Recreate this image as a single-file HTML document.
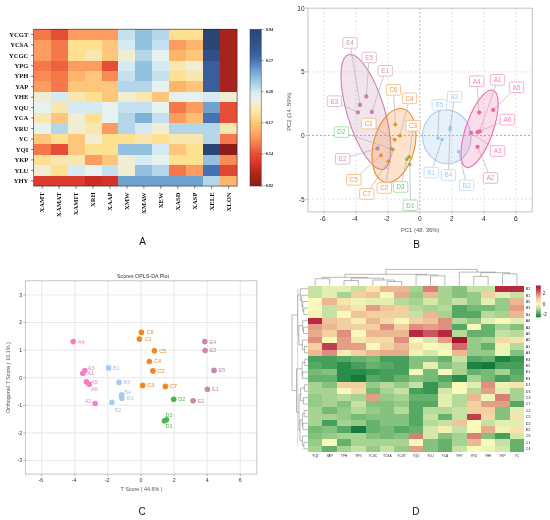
<!DOCTYPE html>
<html lang="en">
<head>
<meta charset="utf-8">
<title>Figure panels A-D</title>
<style>
html,body{margin:0;padding:0;background:#fff;}
body{width:550px;height:520px;overflow:hidden;font-family:"Liberation Sans",sans-serif;}
svg{display:block;}
</style>
</head>
<body>
<svg width="550" height="520" viewBox="0 0 550 520">
<rect x="0" y="0" width="550" height="520" fill="#ffffff"/>
<g id="panelA">
<g shape-rendering="crispEdges">
<rect x="33.70" y="29.20" width="17.25" height="10.76" fill="#f5774a"/>
<rect x="50.65" y="29.20" width="17.25" height="10.76" fill="#e34f37"/>
<rect x="67.60" y="29.20" width="17.25" height="10.76" fill="#fc9c60"/>
<rect x="84.55" y="29.20" width="17.25" height="10.76" fill="#fc9c60"/>
<rect x="101.50" y="29.20" width="17.25" height="10.76" fill="#fc9c60"/>
<rect x="118.45" y="29.20" width="17.25" height="10.76" fill="#c5e0ee"/>
<rect x="135.40" y="29.20" width="17.25" height="10.76" fill="#94c1de"/>
<rect x="152.35" y="29.20" width="17.25" height="10.76" fill="#b4d6e9"/>
<rect x="169.30" y="29.20" width="17.25" height="10.76" fill="#fee091"/>
<rect x="186.25" y="29.20" width="17.25" height="10.76" fill="#fee091"/>
<rect x="203.20" y="29.20" width="17.25" height="10.76" fill="#2a4674"/>
<rect x="220.15" y="29.20" width="17.25" height="10.76" fill="#a8231d"/>
<rect x="33.70" y="39.66" width="17.25" height="10.76" fill="#fc9c60"/>
<rect x="50.65" y="39.66" width="17.25" height="10.76" fill="#f5774a"/>
<rect x="67.60" y="39.66" width="17.25" height="10.76" fill="#fee091"/>
<rect x="84.55" y="39.66" width="17.25" height="10.76" fill="#fee091"/>
<rect x="101.50" y="39.66" width="17.25" height="10.76" fill="#fdc67a"/>
<rect x="118.45" y="39.66" width="17.25" height="10.76" fill="#d6eaf3"/>
<rect x="135.40" y="39.66" width="17.25" height="10.76" fill="#94c1de"/>
<rect x="152.35" y="39.66" width="17.25" height="10.76" fill="#c5e0ee"/>
<rect x="169.30" y="39.66" width="17.25" height="10.76" fill="#fc9c60"/>
<rect x="186.25" y="39.66" width="17.25" height="10.76" fill="#fdb56c"/>
<rect x="203.20" y="39.66" width="17.25" height="10.76" fill="#2a4674"/>
<rect x="220.15" y="39.66" width="17.25" height="10.76" fill="#a8231d"/>
<rect x="33.70" y="50.11" width="17.25" height="10.76" fill="#fc9c60"/>
<rect x="50.65" y="50.11" width="17.25" height="10.76" fill="#f5774a"/>
<rect x="67.60" y="50.11" width="17.25" height="10.76" fill="#fee091"/>
<rect x="84.55" y="50.11" width="17.25" height="10.76" fill="#f9e7b2"/>
<rect x="101.50" y="50.11" width="17.25" height="10.76" fill="#fdc67a"/>
<rect x="118.45" y="50.11" width="17.25" height="10.76" fill="#f1edd2"/>
<rect x="135.40" y="50.11" width="17.25" height="10.76" fill="#b4d6e9"/>
<rect x="152.35" y="50.11" width="17.25" height="10.76" fill="#e6f2ee"/>
<rect x="169.30" y="50.11" width="17.25" height="10.76" fill="#fdb56c"/>
<rect x="186.25" y="50.11" width="17.25" height="10.76" fill="#fdc67a"/>
<rect x="203.20" y="50.11" width="17.25" height="10.76" fill="#30508a"/>
<rect x="220.15" y="50.11" width="17.25" height="10.76" fill="#a8231d"/>
<rect x="33.70" y="60.57" width="17.25" height="10.76" fill="#f5774a"/>
<rect x="50.65" y="60.57" width="17.25" height="10.76" fill="#ec6340"/>
<rect x="67.60" y="60.57" width="17.25" height="10.76" fill="#fc9c60"/>
<rect x="84.55" y="60.57" width="17.25" height="10.76" fill="#fc9c60"/>
<rect x="101.50" y="60.57" width="17.25" height="10.76" fill="#e34f37"/>
<rect x="118.45" y="60.57" width="17.25" height="10.76" fill="#d6eaf3"/>
<rect x="135.40" y="60.57" width="17.25" height="10.76" fill="#94c1de"/>
<rect x="152.35" y="60.57" width="17.25" height="10.76" fill="#d6eaf3"/>
<rect x="169.30" y="60.57" width="17.25" height="10.76" fill="#f9e7b2"/>
<rect x="186.25" y="60.57" width="17.25" height="10.76" fill="#f1edd2"/>
<rect x="203.20" y="60.57" width="17.25" height="10.76" fill="#3a5d9c"/>
<rect x="220.15" y="60.57" width="17.25" height="10.76" fill="#a8231d"/>
<rect x="33.70" y="71.03" width="17.25" height="10.76" fill="#f88a55"/>
<rect x="50.65" y="71.03" width="17.25" height="10.76" fill="#f5774a"/>
<rect x="67.60" y="71.03" width="17.25" height="10.76" fill="#fdb56c"/>
<rect x="84.55" y="71.03" width="17.25" height="10.76" fill="#fdc67a"/>
<rect x="101.50" y="71.03" width="17.25" height="10.76" fill="#f88a55"/>
<rect x="118.45" y="71.03" width="17.25" height="10.76" fill="#c5e0ee"/>
<rect x="135.40" y="71.03" width="17.25" height="10.76" fill="#94c1de"/>
<rect x="152.35" y="71.03" width="17.25" height="10.76" fill="#c5e0ee"/>
<rect x="169.30" y="71.03" width="17.25" height="10.76" fill="#fee091"/>
<rect x="186.25" y="71.03" width="17.25" height="10.76" fill="#f9e7b2"/>
<rect x="203.20" y="71.03" width="17.25" height="10.76" fill="#3a5d9c"/>
<rect x="220.15" y="71.03" width="17.25" height="10.76" fill="#a8231d"/>
<rect x="33.70" y="81.48" width="17.25" height="10.76" fill="#fc9c60"/>
<rect x="50.65" y="81.48" width="17.25" height="10.76" fill="#f5774a"/>
<rect x="67.60" y="81.48" width="17.25" height="10.76" fill="#fdc67a"/>
<rect x="84.55" y="81.48" width="17.25" height="10.76" fill="#fdc67a"/>
<rect x="101.50" y="81.48" width="17.25" height="10.76" fill="#fdc67a"/>
<rect x="118.45" y="81.48" width="17.25" height="10.76" fill="#b4d6e9"/>
<rect x="135.40" y="81.48" width="17.25" height="10.76" fill="#b4d6e9"/>
<rect x="152.35" y="81.48" width="17.25" height="10.76" fill="#e6f2ee"/>
<rect x="169.30" y="81.48" width="17.25" height="10.76" fill="#fdb56c"/>
<rect x="186.25" y="81.48" width="17.25" height="10.76" fill="#fdc67a"/>
<rect x="203.20" y="81.48" width="17.25" height="10.76" fill="#3a5d9c"/>
<rect x="220.15" y="81.48" width="17.25" height="10.76" fill="#a8231d"/>
<rect x="33.70" y="91.94" width="17.25" height="10.76" fill="#f1edd2"/>
<rect x="50.65" y="91.94" width="17.25" height="10.76" fill="#d6eaf3"/>
<rect x="67.60" y="91.94" width="17.25" height="10.76" fill="#f9e7b2"/>
<rect x="84.55" y="91.94" width="17.25" height="10.76" fill="#fee091"/>
<rect x="101.50" y="91.94" width="17.25" height="10.76" fill="#fdc67a"/>
<rect x="118.45" y="91.94" width="17.25" height="10.76" fill="#f1edd2"/>
<rect x="135.40" y="91.94" width="17.25" height="10.76" fill="#f9e7b2"/>
<rect x="152.35" y="91.94" width="17.25" height="10.76" fill="#fdc67a"/>
<rect x="169.30" y="91.94" width="17.25" height="10.76" fill="#e6f2ee"/>
<rect x="186.25" y="91.94" width="17.25" height="10.76" fill="#e6f2ee"/>
<rect x="203.20" y="91.94" width="17.25" height="10.76" fill="#d6eaf3"/>
<rect x="220.15" y="91.94" width="17.25" height="10.76" fill="#f1edd2"/>
<rect x="33.70" y="102.40" width="17.25" height="10.76" fill="#e6f2ee"/>
<rect x="50.65" y="102.40" width="17.25" height="10.76" fill="#f9e7b2"/>
<rect x="67.60" y="102.40" width="17.25" height="10.76" fill="#d6eaf3"/>
<rect x="84.55" y="102.40" width="17.25" height="10.76" fill="#d6eaf3"/>
<rect x="101.50" y="102.40" width="17.25" height="10.76" fill="#e6f2ee"/>
<rect x="118.45" y="102.40" width="17.25" height="10.76" fill="#c5e0ee"/>
<rect x="135.40" y="102.40" width="17.25" height="10.76" fill="#c5e0ee"/>
<rect x="152.35" y="102.40" width="17.25" height="10.76" fill="#e6f2ee"/>
<rect x="169.30" y="102.40" width="17.25" height="10.76" fill="#f5774a"/>
<rect x="186.25" y="102.40" width="17.25" height="10.76" fill="#fc9c60"/>
<rect x="203.20" y="102.40" width="17.25" height="10.76" fill="#6ea2cf"/>
<rect x="220.15" y="102.40" width="17.25" height="10.76" fill="#e34f37"/>
<rect x="33.70" y="112.86" width="17.25" height="10.76" fill="#f9e7b2"/>
<rect x="50.65" y="112.86" width="17.25" height="10.76" fill="#fdc67a"/>
<rect x="67.60" y="112.86" width="17.25" height="10.76" fill="#f1edd2"/>
<rect x="84.55" y="112.86" width="17.25" height="10.76" fill="#fee091"/>
<rect x="101.50" y="112.86" width="17.25" height="10.76" fill="#e6f2ee"/>
<rect x="118.45" y="112.86" width="17.25" height="10.76" fill="#b4d6e9"/>
<rect x="135.40" y="112.86" width="17.25" height="10.76" fill="#81b2d6"/>
<rect x="152.35" y="112.86" width="17.25" height="10.76" fill="#c5e0ee"/>
<rect x="169.30" y="112.86" width="17.25" height="10.76" fill="#fc9c60"/>
<rect x="186.25" y="112.86" width="17.25" height="10.76" fill="#fdbe73"/>
<rect x="203.20" y="112.86" width="17.25" height="10.76" fill="#4473b4"/>
<rect x="220.15" y="112.86" width="17.25" height="10.76" fill="#e34f37"/>
<rect x="33.70" y="123.31" width="17.25" height="10.76" fill="#e6f2ee"/>
<rect x="50.65" y="123.31" width="17.25" height="10.76" fill="#b4d6e9"/>
<rect x="67.60" y="123.31" width="17.25" height="10.76" fill="#f1edd2"/>
<rect x="84.55" y="123.31" width="17.25" height="10.76" fill="#f9e7b2"/>
<rect x="101.50" y="123.31" width="17.25" height="10.76" fill="#fc9c60"/>
<rect x="118.45" y="123.31" width="17.25" height="10.76" fill="#b4d6e9"/>
<rect x="135.40" y="123.31" width="17.25" height="10.76" fill="#d6eaf3"/>
<rect x="152.35" y="123.31" width="17.25" height="10.76" fill="#f1edd2"/>
<rect x="169.30" y="123.31" width="17.25" height="10.76" fill="#b4d6e9"/>
<rect x="186.25" y="123.31" width="17.25" height="10.76" fill="#b4d6e9"/>
<rect x="203.20" y="123.31" width="17.25" height="10.76" fill="#b4d6e9"/>
<rect x="220.15" y="123.31" width="17.25" height="10.76" fill="#f9e7b2"/>
<rect x="33.70" y="133.77" width="17.25" height="10.76" fill="#fdc67a"/>
<rect x="50.65" y="133.77" width="17.25" height="10.76" fill="#fee091"/>
<rect x="67.60" y="133.77" width="17.25" height="10.76" fill="#fdc67a"/>
<rect x="84.55" y="133.77" width="17.25" height="10.76" fill="#f1edd2"/>
<rect x="101.50" y="133.77" width="17.25" height="10.76" fill="#fee091"/>
<rect x="118.45" y="133.77" width="17.25" height="10.76" fill="#fee091"/>
<rect x="135.40" y="133.77" width="17.25" height="10.76" fill="#f9e7b2"/>
<rect x="152.35" y="133.77" width="17.25" height="10.76" fill="#fee091"/>
<rect x="169.30" y="133.77" width="17.25" height="10.76" fill="#f9e7b2"/>
<rect x="186.25" y="133.77" width="17.25" height="10.76" fill="#f9e7b2"/>
<rect x="203.20" y="133.77" width="17.25" height="10.76" fill="#b4d6e9"/>
<rect x="220.15" y="133.77" width="17.25" height="10.76" fill="#f5774a"/>
<rect x="33.70" y="144.23" width="17.25" height="10.76" fill="#f5774a"/>
<rect x="50.65" y="144.23" width="17.25" height="10.76" fill="#e34f37"/>
<rect x="67.60" y="144.23" width="17.25" height="10.76" fill="#fdc67a"/>
<rect x="84.55" y="144.23" width="17.25" height="10.76" fill="#fee091"/>
<rect x="101.50" y="144.23" width="17.25" height="10.76" fill="#fee091"/>
<rect x="118.45" y="144.23" width="17.25" height="10.76" fill="#94c1de"/>
<rect x="135.40" y="144.23" width="17.25" height="10.76" fill="#94c1de"/>
<rect x="152.35" y="144.23" width="17.25" height="10.76" fill="#d6eaf3"/>
<rect x="169.30" y="144.23" width="17.25" height="10.76" fill="#fdc67a"/>
<rect x="186.25" y="144.23" width="17.25" height="10.76" fill="#fee091"/>
<rect x="203.20" y="144.23" width="17.25" height="10.76" fill="#2a4674"/>
<rect x="220.15" y="144.23" width="17.25" height="10.76" fill="#8e1c19"/>
<rect x="33.70" y="154.68" width="17.25" height="10.76" fill="#fee091"/>
<rect x="50.65" y="154.68" width="17.25" height="10.76" fill="#f9e7b2"/>
<rect x="67.60" y="154.68" width="17.25" height="10.76" fill="#f9e7b2"/>
<rect x="84.55" y="154.68" width="17.25" height="10.76" fill="#fc9c60"/>
<rect x="101.50" y="154.68" width="17.25" height="10.76" fill="#fdc67a"/>
<rect x="118.45" y="154.68" width="17.25" height="10.76" fill="#f1edd2"/>
<rect x="135.40" y="154.68" width="17.25" height="10.76" fill="#d6eaf3"/>
<rect x="152.35" y="154.68" width="17.25" height="10.76" fill="#e6f2ee"/>
<rect x="169.30" y="154.68" width="17.25" height="10.76" fill="#fee091"/>
<rect x="186.25" y="154.68" width="17.25" height="10.76" fill="#fee091"/>
<rect x="203.20" y="154.68" width="17.25" height="10.76" fill="#94c1de"/>
<rect x="220.15" y="154.68" width="17.25" height="10.76" fill="#f88a55"/>
<rect x="33.70" y="165.14" width="17.25" height="10.76" fill="#f1edd2"/>
<rect x="50.65" y="165.14" width="17.25" height="10.76" fill="#fee091"/>
<rect x="67.60" y="165.14" width="17.25" height="10.76" fill="#d6eaf3"/>
<rect x="84.55" y="165.14" width="17.25" height="10.76" fill="#e6f2ee"/>
<rect x="101.50" y="165.14" width="17.25" height="10.76" fill="#c5e0ee"/>
<rect x="118.45" y="165.14" width="17.25" height="10.76" fill="#f1edd2"/>
<rect x="135.40" y="165.14" width="17.25" height="10.76" fill="#94c1de"/>
<rect x="152.35" y="165.14" width="17.25" height="10.76" fill="#b4d6e9"/>
<rect x="169.30" y="165.14" width="17.25" height="10.76" fill="#f5774a"/>
<rect x="186.25" y="165.14" width="17.25" height="10.76" fill="#fc9c60"/>
<rect x="203.20" y="165.14" width="17.25" height="10.76" fill="#4473b4"/>
<rect x="220.15" y="165.14" width="17.25" height="10.76" fill="#e04632"/>
<rect x="33.70" y="175.60" width="17.25" height="10.76" fill="#dc3c2d"/>
<rect x="50.65" y="175.60" width="17.25" height="10.76" fill="#dc3c2d"/>
<rect x="67.60" y="175.60" width="17.25" height="10.76" fill="#dc3c2d"/>
<rect x="84.55" y="175.60" width="17.25" height="10.76" fill="#cc2a24"/>
<rect x="101.50" y="175.60" width="17.25" height="10.76" fill="#d43328"/>
<rect x="118.45" y="175.60" width="17.25" height="10.76" fill="#6ea2cf"/>
<rect x="135.40" y="175.60" width="17.25" height="10.76" fill="#6ea2cf"/>
<rect x="152.35" y="175.60" width="17.25" height="10.76" fill="#6ea2cf"/>
<rect x="169.30" y="175.60" width="17.25" height="10.76" fill="#6ea2cf"/>
<rect x="186.25" y="175.60" width="17.25" height="10.76" fill="#6ea2cf"/>
<rect x="203.20" y="175.60" width="17.25" height="10.76" fill="#b4d6e9"/>
<rect x="220.15" y="175.60" width="17.25" height="10.76" fill="#fdb56c"/>
</g>
<rect x="33.70" y="29.20" width="203.40" height="156.86" fill="none" stroke="#222" stroke-width="0.6"/>
<g font-family="'Liberation Serif', 'DejaVu Serif', serif" font-weight="bold" font-size="6.6" fill="#111">
<line x1="31.10" y1="34.43" x2="33.70" y2="34.43" stroke="#222" stroke-width="0.6"/>
<text x="28.30" y="36.63" text-anchor="end">YCGT</text>
<line x1="31.10" y1="44.89" x2="33.70" y2="44.89" stroke="#222" stroke-width="0.6"/>
<text x="28.30" y="47.09" text-anchor="end">YCSA</text>
<line x1="31.10" y1="55.34" x2="33.70" y2="55.34" stroke="#222" stroke-width="0.6"/>
<text x="28.30" y="57.54" text-anchor="end">YCGC</text>
<line x1="31.10" y1="65.80" x2="33.70" y2="65.80" stroke="#222" stroke-width="0.6"/>
<text x="28.30" y="68.00" text-anchor="end">YPG</text>
<line x1="31.10" y1="76.26" x2="33.70" y2="76.26" stroke="#222" stroke-width="0.6"/>
<text x="28.30" y="78.46" text-anchor="end">YPH</text>
<line x1="31.10" y1="86.71" x2="33.70" y2="86.71" stroke="#222" stroke-width="0.6"/>
<text x="28.30" y="88.91" text-anchor="end">YAP</text>
<line x1="31.10" y1="97.17" x2="33.70" y2="97.17" stroke="#222" stroke-width="0.6"/>
<text x="28.30" y="99.37" text-anchor="end">YHE</text>
<line x1="31.10" y1="107.63" x2="33.70" y2="107.63" stroke="#222" stroke-width="0.6"/>
<text x="28.30" y="109.83" text-anchor="end">YQU</text>
<line x1="31.10" y1="118.08" x2="33.70" y2="118.08" stroke="#222" stroke-width="0.6"/>
<text x="28.30" y="120.28" text-anchor="end">YCA</text>
<line x1="31.10" y1="128.54" x2="33.70" y2="128.54" stroke="#222" stroke-width="0.6"/>
<text x="28.30" y="130.74" text-anchor="end">YRU</text>
<line x1="31.10" y1="139.00" x2="33.70" y2="139.00" stroke="#222" stroke-width="0.6"/>
<text x="28.30" y="141.20" text-anchor="end">YC</text>
<line x1="31.10" y1="149.46" x2="33.70" y2="149.46" stroke="#222" stroke-width="0.6"/>
<text x="28.30" y="151.66" text-anchor="end">YQI</text>
<line x1="31.10" y1="159.91" x2="33.70" y2="159.91" stroke="#222" stroke-width="0.6"/>
<text x="28.30" y="162.11" text-anchor="end">YKP</text>
<line x1="31.10" y1="170.37" x2="33.70" y2="170.37" stroke="#222" stroke-width="0.6"/>
<text x="28.30" y="172.57" text-anchor="end">YLU</text>
<line x1="31.10" y1="180.83" x2="33.70" y2="180.83" stroke="#222" stroke-width="0.6"/>
<text x="28.30" y="183.03" text-anchor="end">YHY</text>
<line x1="42.18" y1="186.06" x2="42.18" y2="188.66" stroke="#222" stroke-width="0.6"/>
<text transform="translate(44.38,192.46) rotate(-90)" text-anchor="end" font-size="6.6">XAMT</text>
<line x1="59.12" y1="186.06" x2="59.12" y2="188.66" stroke="#222" stroke-width="0.6"/>
<text transform="translate(61.33,192.46) rotate(-90)" text-anchor="end" font-size="6.6">XAMAT</text>
<line x1="76.08" y1="186.06" x2="76.08" y2="188.66" stroke="#222" stroke-width="0.6"/>
<text transform="translate(78.28,192.46) rotate(-90)" text-anchor="end" font-size="6.6">XAMIT</text>
<line x1="93.03" y1="186.06" x2="93.03" y2="188.66" stroke="#222" stroke-width="0.6"/>
<text transform="translate(95.23,192.46) rotate(-90)" text-anchor="end" font-size="6.6">XRH</text>
<line x1="109.97" y1="186.06" x2="109.97" y2="188.66" stroke="#222" stroke-width="0.6"/>
<text transform="translate(112.17,192.46) rotate(-90)" text-anchor="end" font-size="6.6">XAAP</text>
<line x1="126.92" y1="186.06" x2="126.92" y2="188.66" stroke="#222" stroke-width="0.6"/>
<text transform="translate(129.12,192.46) rotate(-90)" text-anchor="end" font-size="6.6">XMW</text>
<line x1="143.88" y1="186.06" x2="143.88" y2="188.66" stroke="#222" stroke-width="0.6"/>
<text transform="translate(146.07,192.46) rotate(-90)" text-anchor="end" font-size="6.6">XMAW</text>
<line x1="160.82" y1="186.06" x2="160.82" y2="188.66" stroke="#222" stroke-width="0.6"/>
<text transform="translate(163.02,192.46) rotate(-90)" text-anchor="end" font-size="6.6">XEW</text>
<line x1="177.77" y1="186.06" x2="177.77" y2="188.66" stroke="#222" stroke-width="0.6"/>
<text transform="translate(179.97,192.46) rotate(-90)" text-anchor="end" font-size="6.6">XASD</text>
<line x1="194.73" y1="186.06" x2="194.73" y2="188.66" stroke="#222" stroke-width="0.6"/>
<text transform="translate(196.93,192.46) rotate(-90)" text-anchor="end" font-size="6.6">XASP</text>
<line x1="211.68" y1="186.06" x2="211.68" y2="188.66" stroke="#222" stroke-width="0.6"/>
<text transform="translate(213.88,192.46) rotate(-90)" text-anchor="end" font-size="6.6">XELE</text>
<line x1="228.62" y1="186.06" x2="228.62" y2="188.66" stroke="#222" stroke-width="0.6"/>
<text transform="translate(230.82,192.46) rotate(-90)" text-anchor="end" font-size="6.6">XLON</text>
</g>
<defs><linearGradient id="cbA" x1="0" y1="0" x2="0" y2="1">
<stop offset="0.0000" stop-color="#2a4674"/>
<stop offset="0.0753" stop-color="#30508a"/>
<stop offset="0.1505" stop-color="#3a5d9c"/>
<stop offset="0.1989" stop-color="#4473b4"/>
<stop offset="0.2634" stop-color="#6ea2cf"/>
<stop offset="0.3172" stop-color="#94c1de"/>
<stop offset="0.3602" stop-color="#b4d6e9"/>
<stop offset="0.3978" stop-color="#d6eaf3"/>
<stop offset="0.4355" stop-color="#e6f2ee"/>
<stop offset="0.4731" stop-color="#f1edd2"/>
<stop offset="0.5161" stop-color="#f9e7b2"/>
<stop offset="0.5538" stop-color="#fee091"/>
<stop offset="0.5968" stop-color="#fdc67a"/>
<stop offset="0.6398" stop-color="#fdb56c"/>
<stop offset="0.6828" stop-color="#fc9c60"/>
<stop offset="0.7366" stop-color="#f5774a"/>
<stop offset="0.7957" stop-color="#e34f37"/>
<stop offset="0.8387" stop-color="#dc3c2d"/>
<stop offset="0.8817" stop-color="#cc2a24"/>
<stop offset="0.9355" stop-color="#a8231d"/>
<stop offset="1.0000" stop-color="#8e1c19"/>
</linearGradient></defs>
<rect x="250.0" y="29.3" width="11.20" height="156.70" fill="url(#cbA)" stroke="#333" stroke-width="0.5"/>
<g font-family="'Liberation Serif', serif" font-weight="bold" font-size="4.2" fill="#111">
<line x1="261.2" y1="29.30" x2="263.40" y2="29.30" stroke="#222" stroke-width="0.5"/>
<text x="273.00" y="30.70" text-anchor="end">0.94</text>
<line x1="261.2" y1="60.47" x2="263.40" y2="60.47" stroke="#222" stroke-width="0.5"/>
<text x="273.00" y="61.87" text-anchor="end">0.57</text>
<line x1="261.2" y1="91.64" x2="263.40" y2="91.64" stroke="#222" stroke-width="0.5"/>
<text x="273.00" y="93.04" text-anchor="end">0.20</text>
<line x1="261.2" y1="122.81" x2="263.40" y2="122.81" stroke="#222" stroke-width="0.5"/>
<text x="273.00" y="124.21" text-anchor="end">-0.17</text>
<line x1="261.2" y1="153.99" x2="263.40" y2="153.99" stroke="#222" stroke-width="0.5"/>
<text x="273.00" y="155.39" text-anchor="end">-0.54</text>
<line x1="261.2" y1="186.00" x2="263.40" y2="186.00" stroke="#222" stroke-width="0.5"/>
<text x="273.00" y="187.40" text-anchor="end">-0.92</text>
</g>
<text x="142.5" y="244.9" text-anchor="middle" font-family="'Liberation Sans', sans-serif" font-size="10" fill="#111">A</text>
</g>
<g id="panelB" font-family="'Liberation Sans', sans-serif">
<line x1="323.80" y1="8.2" x2="323.80" y2="211.8" stroke="#e2e2e2" stroke-width="1.2" stroke-dasharray="1.6,2.5"/>
<line x1="355.80" y1="8.2" x2="355.80" y2="211.8" stroke="#e2e2e2" stroke-width="1.2" stroke-dasharray="1.6,2.5"/>
<line x1="387.80" y1="8.2" x2="387.80" y2="211.8" stroke="#e2e2e2" stroke-width="1.2" stroke-dasharray="1.6,2.5"/>
<line x1="451.80" y1="8.2" x2="451.80" y2="211.8" stroke="#e2e2e2" stroke-width="1.2" stroke-dasharray="1.6,2.5"/>
<line x1="483.80" y1="8.2" x2="483.80" y2="211.8" stroke="#e2e2e2" stroke-width="1.2" stroke-dasharray="1.6,2.5"/>
<line x1="515.80" y1="8.2" x2="515.80" y2="211.8" stroke="#e2e2e2" stroke-width="1.2" stroke-dasharray="1.6,2.5"/>
<line x1="308.0" y1="71.85" x2="532.2" y2="71.85" stroke="#e2e2e2" stroke-width="1.2" stroke-dasharray="1.6,2.5"/>
<line x1="308.0" y1="199.15" x2="532.2" y2="199.15" stroke="#e2e2e2" stroke-width="1.2" stroke-dasharray="1.6,2.5"/>
<line x1="419.80" y1="8.2" x2="419.80" y2="211.8" stroke="#9a9a9a" stroke-width="0.8" stroke-dasharray="2,2"/>
<line x1="308.0" y1="135.50" x2="532.2" y2="135.50" stroke="#9a9a9a" stroke-width="0.8" stroke-dasharray="2,2"/>
<rect x="308.0" y="8.2" width="224.20" height="203.60" fill="none" stroke="#c4c4c4" stroke-width="1"/>
<g font-size="6.6" fill="#2a2a2a">
<line x1="306.0" y1="8.20" x2="308.0" y2="8.20" stroke="#999" stroke-width="0.7"/>
<text x="304.60" y="10.55" text-anchor="end">10</text>
<line x1="306.0" y1="71.85" x2="308.0" y2="71.85" stroke="#999" stroke-width="0.7"/>
<text x="304.60" y="74.20" text-anchor="end">5</text>
<line x1="306.0" y1="135.50" x2="308.0" y2="135.50" stroke="#999" stroke-width="0.7"/>
<text x="304.60" y="137.85" text-anchor="end">0</text>
<line x1="306.0" y1="199.15" x2="308.0" y2="199.15" stroke="#999" stroke-width="0.7"/>
<text x="304.60" y="201.50" text-anchor="end">-5</text>
<line x1="323.80" y1="211.8" x2="323.80" y2="213.8" stroke="#999" stroke-width="0.7"/>
<text x="322.80" y="220.6" text-anchor="middle">-6</text>
<line x1="355.80" y1="211.8" x2="355.80" y2="213.8" stroke="#999" stroke-width="0.7"/>
<text x="354.80" y="220.6" text-anchor="middle">-4</text>
<line x1="387.80" y1="211.8" x2="387.80" y2="213.8" stroke="#999" stroke-width="0.7"/>
<text x="386.80" y="220.6" text-anchor="middle">-2</text>
<line x1="419.80" y1="211.8" x2="419.80" y2="213.8" stroke="#999" stroke-width="0.7"/>
<text x="419.80" y="220.6" text-anchor="middle">0</text>
<line x1="451.80" y1="211.8" x2="451.80" y2="213.8" stroke="#999" stroke-width="0.7"/>
<text x="451.80" y="220.6" text-anchor="middle">2</text>
<line x1="483.80" y1="211.8" x2="483.80" y2="213.8" stroke="#999" stroke-width="0.7"/>
<text x="483.80" y="220.6" text-anchor="middle">4</text>
<line x1="515.80" y1="211.8" x2="515.80" y2="213.8" stroke="#999" stroke-width="0.7"/>
<text x="515.80" y="220.6" text-anchor="middle">6</text>
</g>
<text x="420.2" y="232.0" text-anchor="middle" font-size="5.9" fill="#555">PC1 (48. 36%)</text>
<text transform="translate(291.2,111.5) rotate(-90)" text-anchor="middle" font-size="5.9" fill="#555">PC2 (14. 59%)</text>
<ellipse cx="365.9" cy="112.0" rx="18.7" ry="59.8" transform="rotate(-16.85 365.9 112.0)" fill="rgba(197,131,170,0.22)" stroke="#c583aa" stroke-width="1.1"/>
<ellipse cx="394.0" cy="145.5" rx="20.6" ry="37.8" transform="rotate(14.0 394.0 145.5)" fill="rgba(245,140,40,0.24)" stroke="#f28a25" stroke-width="1.1"/>
<ellipse cx="446.8" cy="136.8" rx="24.2" ry="27.0" transform="rotate(-8.0 446.8 136.8)" fill="rgba(170,205,242,0.28)" stroke="#a9cdf1" stroke-width="1.1"/>
<ellipse cx="479.6" cy="128.8" rx="13.6" ry="40.8" transform="rotate(19.3 479.6 128.8)" fill="rgba(240,100,170,0.22)" stroke="#f26cb0" stroke-width="1.1"/>
<line x1="350.0" y1="42.9" x2="360.0" y2="105.0" stroke="#b4b4b4" stroke-width="0.7"/>
<line x1="369.2" y1="57.5" x2="366.3" y2="96.5" stroke="#b4b4b4" stroke-width="0.7"/>
<line x1="385.2" y1="70.8" x2="371.9" y2="112.0" stroke="#b4b4b4" stroke-width="0.7"/>
<line x1="334.5" y1="101.2" x2="357.9" y2="112.4" stroke="#b4b4b4" stroke-width="0.7"/>
<line x1="342.7" y1="158.9" x2="377.5" y2="148.4" stroke="#b4b4b4" stroke-width="0.7"/>
<line x1="393.5" y1="89.9" x2="395.3" y2="124.5" stroke="#b4b4b4" stroke-width="0.7"/>
<line x1="409.6" y1="98.3" x2="399.9" y2="135.7" stroke="#b4b4b4" stroke-width="0.7"/>
<line x1="368.8" y1="123.6" x2="394.7" y2="139.8" stroke="#b4b4b4" stroke-width="0.7"/>
<line x1="413.1" y1="125.7" x2="409.1" y2="157.1" stroke="#b4b4b4" stroke-width="0.7"/>
<line x1="353.8" y1="179.8" x2="381.0" y2="155.4" stroke="#b4b4b4" stroke-width="0.7"/>
<line x1="366.8" y1="194.0" x2="388.3" y2="161.3" stroke="#b4b4b4" stroke-width="0.7"/>
<line x1="384.3" y1="188.0" x2="392.9" y2="149.5" stroke="#b4b4b4" stroke-width="0.7"/>
<line x1="341.4" y1="132.1" x2="391.1" y2="148.7" stroke="#b4b4b4" stroke-width="0.7"/>
<line x1="400.6" y1="187.0" x2="406.8" y2="159.2" stroke="#b4b4b4" stroke-width="0.7"/>
<line x1="410.4" y1="205.3" x2="409.9" y2="164.5" stroke="#b4b4b4" stroke-width="0.7"/>
<line x1="439.3" y1="104.8" x2="437.9" y2="138.2" stroke="#b4b4b4" stroke-width="0.7"/>
<line x1="454.5" y1="96.7" x2="450.3" y2="127.3" stroke="#b4b4b4" stroke-width="0.7"/>
<line x1="431.2" y1="172.5" x2="442.0" y2="139.5" stroke="#b4b4b4" stroke-width="0.7"/>
<line x1="448.4" y1="175.1" x2="450.0" y2="129.6" stroke="#b4b4b4" stroke-width="0.7"/>
<line x1="466.6" y1="185.3" x2="458.7" y2="151.6" stroke="#b4b4b4" stroke-width="0.7"/>
<line x1="476.7" y1="81.2" x2="479.2" y2="112.6" stroke="#b4b4b4" stroke-width="0.7"/>
<line x1="497.5" y1="79.9" x2="479.7" y2="131.4" stroke="#b4b4b4" stroke-width="0.7"/>
<line x1="516.5" y1="87.2" x2="493.2" y2="109.9" stroke="#b4b4b4" stroke-width="0.7"/>
<line x1="507.4" y1="119.6" x2="477.6" y2="132.2" stroke="#b4b4b4" stroke-width="0.7"/>
<line x1="497.6" y1="151.0" x2="471.0" y2="132.8" stroke="#b4b4b4" stroke-width="0.7"/>
<line x1="490.5" y1="178.0" x2="477.5" y2="146.8" stroke="#b4b4b4" stroke-width="0.7"/>
<circle cx="360.0" cy="105.0" r="2.15" fill="#c583aa"/>
<circle cx="366.3" cy="96.5" r="2.15" fill="#c583aa"/>
<circle cx="371.9" cy="112.0" r="2.15" fill="#c583aa"/>
<circle cx="357.9" cy="112.4" r="2.15" fill="#c583aa"/>
<circle cx="377.5" cy="148.4" r="2.15" fill="#c583aa"/>
<polygon points="395.3,122.2 397.6,124.5 395.3,126.8 393.0,124.5" fill="#f28a25"/>
<polygon points="399.9,133.39999999999998 402.2,135.7 399.9,138.0 397.59999999999997,135.7" fill="#f28a25"/>
<polygon points="394.7,137.5 397.0,139.8 394.7,142.10000000000002 392.4,139.8" fill="#f28a25"/>
<polygon points="409.1,154.79999999999998 411.40000000000003,157.1 409.1,159.4 406.8,157.1" fill="#f28a25"/>
<polygon points="381.0,153.1 383.3,155.4 381.0,157.70000000000002 378.7,155.4" fill="#f28a25"/>
<polygon points="388.3,159.0 390.6,161.3 388.3,163.60000000000002 386.0,161.3" fill="#f28a25"/>
<polygon points="392.9,147.2 395.2,149.5 392.9,151.8 390.59999999999997,149.5" fill="#f28a25"/>
<polygon points="391.10,146.10 391.74,147.82 393.57,147.90 392.14,149.04 392.63,150.80 391.10,149.79 389.57,150.80 390.06,149.04 388.63,147.90 390.46,147.82" fill="#5cbf58"/>
<polygon points="406.80,156.60 407.44,158.32 409.27,158.40 407.84,159.54 408.33,161.30 406.80,160.29 405.27,161.30 405.76,159.54 404.33,158.40 406.16,158.32" fill="#5cbf58"/>
<polygon points="409.90,161.90 410.54,163.62 412.37,163.70 410.94,164.84 411.43,166.60 409.90,165.59 408.37,166.60 408.86,164.84 407.43,163.70 409.26,163.62" fill="#5cbf58"/>
<rect x="436.4" y="136.7" width="3" height="3" fill="#9cc5ee"/>
<rect x="448.8" y="125.8" width="3" height="3" fill="#9cc5ee"/>
<rect x="440.5" y="138.0" width="3" height="3" fill="#9cc5ee"/>
<rect x="448.5" y="128.1" width="3" height="3" fill="#9cc5ee"/>
<rect x="457.2" y="150.1" width="3" height="3" fill="#9cc5ee"/>
<circle cx="479.2" cy="112.6" r="2.15" fill="#f065ab"/>
<circle cx="479.7" cy="131.4" r="2.15" fill="#f065ab"/>
<circle cx="493.2" cy="109.9" r="2.15" fill="#f065ab"/>
<circle cx="477.6" cy="132.2" r="2.15" fill="#f065ab"/>
<circle cx="471.0" cy="132.8" r="2.15" fill="#f065ab"/>
<circle cx="477.5" cy="146.8" r="2.15" fill="#f065ab"/>
<g font-size="6.3" text-anchor="middle">
<rect x="342.80" y="37.60" width="14.4" height="10.6" rx="1.4" fill="#fff" stroke="#dfb9cf" stroke-width="0.9"/>
<text x="350.00" y="45.20" fill="#cc98b8">E4</text>
<rect x="362.00" y="52.20" width="14.4" height="10.6" rx="1.4" fill="#fff" stroke="#dfb9cf" stroke-width="0.9"/>
<text x="369.20" y="59.80" fill="#cc98b8">E5</text>
<rect x="378.00" y="65.50" width="14.4" height="10.6" rx="1.4" fill="#fff" stroke="#dfb9cf" stroke-width="0.9"/>
<text x="385.20" y="73.10" fill="#cc98b8">E1</text>
<rect x="327.30" y="95.90" width="14.4" height="10.6" rx="1.4" fill="#fff" stroke="#dfb9cf" stroke-width="0.9"/>
<text x="334.50" y="103.50" fill="#cc98b8">E3</text>
<rect x="335.50" y="153.60" width="14.4" height="10.6" rx="1.4" fill="#fff" stroke="#dfb9cf" stroke-width="0.9"/>
<text x="342.70" y="161.20" fill="#cc98b8">E2</text>
<rect x="386.30" y="84.60" width="14.4" height="10.6" rx="1.4" fill="#fff" stroke="#f8bd83" stroke-width="0.9"/>
<text x="393.50" y="92.20" fill="#f5953a">C6</text>
<rect x="402.40" y="93.00" width="14.4" height="10.6" rx="1.4" fill="#fff" stroke="#f8bd83" stroke-width="0.9"/>
<text x="409.60" y="100.60" fill="#f5953a">C4</text>
<rect x="361.60" y="118.30" width="14.4" height="10.6" rx="1.4" fill="#fff" stroke="#f8bd83" stroke-width="0.9"/>
<text x="368.80" y="125.90" fill="#f5953a">C1</text>
<rect x="405.90" y="120.40" width="14.4" height="10.6" rx="1.4" fill="#fff" stroke="#f8bd83" stroke-width="0.9"/>
<text x="413.10" y="128.00" fill="#f5953a">C3</text>
<rect x="346.60" y="174.50" width="14.4" height="10.6" rx="1.4" fill="#fff" stroke="#f8bd83" stroke-width="0.9"/>
<text x="353.80" y="182.10" fill="#f5953a">C5</text>
<rect x="359.60" y="188.70" width="14.4" height="10.6" rx="1.4" fill="#fff" stroke="#f8bd83" stroke-width="0.9"/>
<text x="366.80" y="196.30" fill="#f5953a">C7</text>
<rect x="377.10" y="182.70" width="14.4" height="10.6" rx="1.4" fill="#fff" stroke="#f8bd83" stroke-width="0.9"/>
<text x="384.30" y="190.30" fill="#f5953a">C2</text>
<rect x="334.20" y="126.80" width="14.4" height="10.6" rx="1.4" fill="#fff" stroke="#a5dca3" stroke-width="0.9"/>
<text x="341.40" y="134.40" fill="#68c464">D2</text>
<rect x="393.40" y="181.70" width="14.4" height="10.6" rx="1.4" fill="#fff" stroke="#a5dca3" stroke-width="0.9"/>
<text x="400.60" y="189.30" fill="#68c464">D3</text>
<rect x="403.20" y="200.00" width="14.4" height="10.6" rx="1.4" fill="#fff" stroke="#a5dca3" stroke-width="0.9"/>
<text x="410.40" y="207.60" fill="#68c464">D1</text>
<rect x="432.10" y="99.50" width="14.4" height="10.6" rx="1.4" fill="#fff" stroke="#c3dcf5" stroke-width="0.9"/>
<text x="439.30" y="107.10" fill="#a6cbf0">B5</text>
<rect x="447.30" y="91.40" width="14.4" height="10.6" rx="1.4" fill="#fff" stroke="#c3dcf5" stroke-width="0.9"/>
<text x="454.50" y="99.00" fill="#a6cbf0">B3</text>
<rect x="424.00" y="167.20" width="14.4" height="10.6" rx="1.4" fill="#fff" stroke="#c3dcf5" stroke-width="0.9"/>
<text x="431.20" y="174.80" fill="#a6cbf0">B1</text>
<rect x="441.20" y="169.80" width="14.4" height="10.6" rx="1.4" fill="#fff" stroke="#c3dcf5" stroke-width="0.9"/>
<text x="448.40" y="177.40" fill="#a6cbf0">B4</text>
<rect x="459.40" y="180.00" width="14.4" height="10.6" rx="1.4" fill="#fff" stroke="#c3dcf5" stroke-width="0.9"/>
<text x="466.60" y="187.60" fill="#a6cbf0">B2</text>
<rect x="469.50" y="75.90" width="14.4" height="10.6" rx="1.4" fill="#fff" stroke="#f6a6cf" stroke-width="0.9"/>
<text x="476.70" y="83.50" fill="#f27db5">A4</text>
<rect x="490.30" y="74.60" width="14.4" height="10.6" rx="1.4" fill="#fff" stroke="#f6a6cf" stroke-width="0.9"/>
<text x="497.50" y="82.20" fill="#f27db5">A1</text>
<rect x="509.30" y="81.90" width="14.4" height="10.6" rx="1.4" fill="#fff" stroke="#f6a6cf" stroke-width="0.9"/>
<text x="516.50" y="89.50" fill="#f27db5">A5</text>
<rect x="500.20" y="114.30" width="14.4" height="10.6" rx="1.4" fill="#fff" stroke="#f6a6cf" stroke-width="0.9"/>
<text x="507.40" y="121.90" fill="#f27db5">A6</text>
<rect x="490.40" y="145.70" width="14.4" height="10.6" rx="1.4" fill="#fff" stroke="#f6a6cf" stroke-width="0.9"/>
<text x="497.60" y="153.30" fill="#f27db5">A3</text>
<rect x="483.30" y="172.70" width="14.4" height="10.6" rx="1.4" fill="#fff" stroke="#f6a6cf" stroke-width="0.9"/>
<text x="490.50" y="180.30" fill="#f27db5">A2</text>
</g>
<text x="416.6" y="248.3" text-anchor="middle" font-size="10" fill="#111">B</text>
</g>
<g id="panelC" font-family="'Liberation Sans', sans-serif">
<line x1="41.70" y1="280.8" x2="41.70" y2="474.1" stroke="#e2e2e2" stroke-width="0.8"/>
<line x1="74.80" y1="280.8" x2="74.80" y2="474.1" stroke="#e2e2e2" stroke-width="0.8"/>
<line x1="107.90" y1="280.8" x2="107.90" y2="474.1" stroke="#e2e2e2" stroke-width="0.8"/>
<line x1="141.00" y1="280.8" x2="141.00" y2="474.1" stroke="#e2e2e2" stroke-width="0.8"/>
<line x1="174.10" y1="280.8" x2="174.10" y2="474.1" stroke="#e2e2e2" stroke-width="0.8"/>
<line x1="207.20" y1="280.8" x2="207.20" y2="474.1" stroke="#e2e2e2" stroke-width="0.8"/>
<line x1="240.30" y1="280.8" x2="240.30" y2="474.1" stroke="#e2e2e2" stroke-width="0.8"/>
<line x1="25.4" y1="460.50" x2="256.8" y2="460.50" stroke="#e2e2e2" stroke-width="0.8"/>
<line x1="25.4" y1="432.90" x2="256.8" y2="432.90" stroke="#e2e2e2" stroke-width="0.8"/>
<line x1="25.4" y1="405.30" x2="256.8" y2="405.30" stroke="#e2e2e2" stroke-width="0.8"/>
<line x1="25.4" y1="377.70" x2="256.8" y2="377.70" stroke="#e2e2e2" stroke-width="0.8"/>
<line x1="25.4" y1="350.10" x2="256.8" y2="350.10" stroke="#e2e2e2" stroke-width="0.8"/>
<line x1="25.4" y1="322.50" x2="256.8" y2="322.50" stroke="#e2e2e2" stroke-width="0.8"/>
<line x1="25.4" y1="294.90" x2="256.8" y2="294.90" stroke="#e2e2e2" stroke-width="0.8"/>
<rect x="25.4" y="280.8" width="231.40" height="193.30" fill="none" stroke="#bdbdbd" stroke-width="0.9"/>
<g font-size="5.2" fill="#333">
<line x1="23.4" y1="460.50" x2="25.4" y2="460.50" stroke="#888" stroke-width="0.6"/>
<text x="22.10" y="462.40" text-anchor="end">-3</text>
<line x1="23.4" y1="432.90" x2="25.4" y2="432.90" stroke="#888" stroke-width="0.6"/>
<text x="22.10" y="434.80" text-anchor="end">-2</text>
<line x1="23.4" y1="405.30" x2="25.4" y2="405.30" stroke="#888" stroke-width="0.6"/>
<text x="22.10" y="407.20" text-anchor="end">-1</text>
<line x1="23.4" y1="377.70" x2="25.4" y2="377.70" stroke="#888" stroke-width="0.6"/>
<text x="22.10" y="379.60" text-anchor="end">0</text>
<line x1="23.4" y1="350.10" x2="25.4" y2="350.10" stroke="#888" stroke-width="0.6"/>
<text x="22.10" y="352.00" text-anchor="end">1</text>
<line x1="23.4" y1="322.50" x2="25.4" y2="322.50" stroke="#888" stroke-width="0.6"/>
<text x="22.10" y="324.40" text-anchor="end">2</text>
<line x1="23.4" y1="294.90" x2="25.4" y2="294.90" stroke="#888" stroke-width="0.6"/>
<text x="22.10" y="296.80" text-anchor="end">3</text>
<line x1="41.70" y1="474.1" x2="41.70" y2="476.1" stroke="#888" stroke-width="0.6"/>
<text x="40.90" y="481.8" text-anchor="middle">-6</text>
<line x1="74.80" y1="474.1" x2="74.80" y2="476.1" stroke="#888" stroke-width="0.6"/>
<text x="74.00" y="481.8" text-anchor="middle">-4</text>
<line x1="107.90" y1="474.1" x2="107.90" y2="476.1" stroke="#888" stroke-width="0.6"/>
<text x="107.10" y="481.8" text-anchor="middle">-2</text>
<line x1="141.00" y1="474.1" x2="141.00" y2="476.1" stroke="#888" stroke-width="0.6"/>
<text x="141.00" y="481.8" text-anchor="middle">0</text>
<line x1="174.10" y1="474.1" x2="174.10" y2="476.1" stroke="#888" stroke-width="0.6"/>
<text x="174.10" y="481.8" text-anchor="middle">2</text>
<line x1="207.20" y1="474.1" x2="207.20" y2="476.1" stroke="#888" stroke-width="0.6"/>
<text x="207.20" y="481.8" text-anchor="middle">4</text>
<line x1="240.30" y1="474.1" x2="240.30" y2="476.1" stroke="#888" stroke-width="0.6"/>
<text x="240.30" y="481.8" text-anchor="middle">6</text>
</g>
<text x="141.6" y="490.9" text-anchor="middle" font-size="5.4" fill="#555">T Score ( 44.6% )</text>
<text transform="translate(9.9,377.5) rotate(-90)" text-anchor="middle" font-size="5.45" fill="#555">Orthogonal T Score ( 10.1% )</text>
<text x="143.0" y="277.6" text-anchor="middle" font-size="5.35" fill="#333">Scores OPLS-DA Plot</text>
<circle cx="73.2" cy="341.6" r="2.8" fill="#f57fc2"/>
<circle cx="84.9" cy="370.5" r="2.8" fill="#f57fc2"/>
<circle cx="82.8" cy="373.2" r="2.8" fill="#f57fc2"/>
<circle cx="86.4" cy="381.7" r="2.8" fill="#f57fc2"/>
<circle cx="89.2" cy="384.2" r="2.8" fill="#f57fc2"/>
<circle cx="95.1" cy="403.5" r="2.8" fill="#f57fc2"/>
<circle cx="108.6" cy="367.9" r="2.8" fill="#a6cbf0"/>
<circle cx="119.0" cy="382.4" r="2.8" fill="#a6cbf0"/>
<circle cx="121.6" cy="394.9" r="2.8" fill="#a6cbf0"/>
<circle cx="121.9" cy="398.3" r="2.8" fill="#a6cbf0"/>
<circle cx="111.9" cy="402.2" r="2.8" fill="#a6cbf0"/>
<circle cx="141.4" cy="332.2" r="2.8" fill="#f5861c"/>
<circle cx="139.4" cy="339.1" r="2.8" fill="#f5861c"/>
<circle cx="154.4" cy="350.8" r="2.8" fill="#f5861c"/>
<circle cx="149.3" cy="361.5" r="2.8" fill="#f5861c"/>
<circle cx="152.9" cy="370.9" r="2.8" fill="#f5861c"/>
<circle cx="142.7" cy="385.4" r="2.8" fill="#f5861c"/>
<circle cx="165.4" cy="386.4" r="2.8" fill="#f5861c"/>
<circle cx="173.7" cy="399.2" r="2.8" fill="#4cb648"/>
<circle cx="166.4" cy="419.7" r="2.8" fill="#4cb648"/>
<circle cx="164.4" cy="420.8" r="2.8" fill="#4cb648"/>
<circle cx="204.8" cy="341.6" r="2.8" fill="#c68aae"/>
<circle cx="205.1" cy="350.5" r="2.8" fill="#c68aae"/>
<circle cx="214.0" cy="370.4" r="2.8" fill="#c68aae"/>
<circle cx="207.4" cy="389.2" r="2.8" fill="#c68aae"/>
<circle cx="193.1" cy="400.7" r="2.8" fill="#c68aae"/>
<g font-size="5.5">
<text x="78.0" y="343.5" fill="#f57fc2">A4</text>
<text x="87.8" y="369.8" fill="#f57fc2">A3</text>
<text x="87.4" y="375.4" fill="#f57fc2">A1</text>
<text x="91.0" y="384.0" fill="#f57fc2">A5</text>
<text x="91.0" y="391.4" fill="#f57fc2">A6</text>
<text x="84.7" y="403.2" fill="#f57fc2">A2</text>
<text x="113.0" y="369.8" fill="#a6cbf0">B1</text>
<text x="123.5" y="384.3" fill="#a6cbf0">B5</text>
<text x="124.3" y="394.3" fill="#a6cbf0">B4</text>
<text x="126.8" y="400.2" fill="#a6cbf0">B3</text>
<text x="114.7" y="411.6" fill="#a6cbf0">B2</text>
<text x="146.5" y="334.1" fill="#f5861c">C6</text>
<text x="144.5" y="341.0" fill="#f5861c">C1</text>
<text x="159.2" y="352.7" fill="#f5861c">C5</text>
<text x="154.1" y="363.4" fill="#f5861c">C4</text>
<text x="157.5" y="372.8" fill="#f5861c">C2</text>
<text x="147.3" y="387.3" fill="#f5861c">C3</text>
<text x="170.0" y="388.3" fill="#f5861c">C7</text>
<text x="178.3" y="401.1" fill="#4cb648">D2</text>
<text x="165.6" y="416.6" fill="#4cb648">D3</text>
<text x="165.6" y="428.3" fill="#4cb648">D1</text>
<text x="209.4" y="343.5" fill="#c68aae">E4</text>
<text x="209.4" y="352.4" fill="#c68aae">E3</text>
<text x="218.5" y="372.3" fill="#c68aae">E5</text>
<text x="212.0" y="391.1" fill="#c68aae">E1</text>
<text x="197.7" y="402.6" fill="#c68aae">E2</text>
</g>
<text x="142.1" y="515.2" text-anchor="middle" font-size="10" fill="#111">C</text>
</g>
<g id="panelD" font-family="'Liberation Sans', sans-serif">
<g shape-rendering="crispEdges">
<rect x="308.00" y="285.60" width="14.71" height="6.70" fill="#c5e1a3"/>
<rect x="322.41" y="285.60" width="14.71" height="6.70" fill="#e2eeb2"/>
<rect x="336.82" y="285.60" width="14.71" height="6.70" fill="#e2eeb2"/>
<rect x="351.23" y="285.60" width="14.71" height="6.70" fill="#c5e1a3"/>
<rect x="365.64" y="285.60" width="14.71" height="6.70" fill="#f6e4ab"/>
<rect x="380.05" y="285.60" width="14.71" height="6.70" fill="#ecb893"/>
<rect x="394.46" y="285.60" width="14.71" height="6.70" fill="#ecb893"/>
<rect x="408.87" y="285.60" width="14.71" height="6.70" fill="#a6d292"/>
<rect x="423.28" y="285.60" width="14.71" height="6.70" fill="#da7f78"/>
<rect x="437.69" y="285.60" width="14.71" height="6.70" fill="#a6d292"/>
<rect x="452.10" y="285.60" width="14.71" height="6.70" fill="#86c27f"/>
<rect x="466.51" y="285.60" width="14.71" height="6.70" fill="#c5e1a3"/>
<rect x="480.92" y="285.60" width="14.71" height="6.70" fill="#c5e1a3"/>
<rect x="495.33" y="285.60" width="14.71" height="6.70" fill="#b8283f"/>
<rect x="509.74" y="285.60" width="14.71" height="6.70" fill="#b8283f"/>
<rect x="308.00" y="292.00" width="14.71" height="6.70" fill="#c5e1a3"/>
<rect x="322.41" y="292.00" width="14.71" height="6.70" fill="#e2eeb2"/>
<rect x="336.82" y="292.00" width="14.71" height="6.70" fill="#a6d292"/>
<rect x="351.23" y="292.00" width="14.71" height="6.70" fill="#f2d0a0"/>
<rect x="365.64" y="292.00" width="14.71" height="6.70" fill="#efc49a"/>
<rect x="380.05" y="292.00" width="14.71" height="6.70" fill="#f9f9b9"/>
<rect x="394.46" y="292.00" width="14.71" height="6.70" fill="#e8ab8c"/>
<rect x="408.87" y="292.00" width="14.71" height="6.70" fill="#96ca88"/>
<rect x="423.28" y="292.00" width="14.71" height="6.70" fill="#ecb893"/>
<rect x="437.69" y="292.00" width="14.71" height="6.70" fill="#a6d292"/>
<rect x="452.10" y="292.00" width="14.71" height="6.70" fill="#86c27f"/>
<rect x="466.51" y="292.00" width="14.71" height="6.70" fill="#96ca88"/>
<rect x="480.92" y="292.00" width="14.71" height="6.70" fill="#f2d0a0"/>
<rect x="495.33" y="292.00" width="14.71" height="6.70" fill="#e2eeb2"/>
<rect x="509.74" y="292.00" width="14.71" height="6.70" fill="#c5e1a3"/>
<rect x="308.00" y="298.40" width="14.71" height="6.70" fill="#f9f9b9"/>
<rect x="322.41" y="298.40" width="14.71" height="6.70" fill="#ecb893"/>
<rect x="336.82" y="298.40" width="14.71" height="6.70" fill="#f6e4ab"/>
<rect x="351.23" y="298.40" width="14.71" height="6.70" fill="#eef4b6"/>
<rect x="365.64" y="298.40" width="14.71" height="6.70" fill="#e2eeb2"/>
<rect x="380.05" y="298.40" width="14.71" height="6.70" fill="#e2eeb2"/>
<rect x="394.46" y="298.40" width="14.71" height="6.70" fill="#b6da9a"/>
<rect x="408.87" y="298.40" width="14.71" height="6.70" fill="#a6d292"/>
<rect x="423.28" y="298.40" width="14.71" height="6.70" fill="#d4e8aa"/>
<rect x="437.69" y="298.40" width="14.71" height="6.70" fill="#a6d292"/>
<rect x="452.10" y="298.40" width="14.71" height="6.70" fill="#c5e1a3"/>
<rect x="466.51" y="298.40" width="14.71" height="6.70" fill="#96ca88"/>
<rect x="480.92" y="298.40" width="14.71" height="6.70" fill="#e2eeb2"/>
<rect x="495.33" y="298.40" width="14.71" height="6.70" fill="#96ca88"/>
<rect x="509.74" y="298.40" width="14.71" height="6.70" fill="#ecb893"/>
<rect x="308.00" y="304.80" width="14.71" height="6.70" fill="#f9f9b9"/>
<rect x="322.41" y="304.80" width="14.71" height="6.70" fill="#c5e1a3"/>
<rect x="336.82" y="304.80" width="14.71" height="6.70" fill="#f2d0a0"/>
<rect x="351.23" y="304.80" width="14.71" height="6.70" fill="#f6e4ab"/>
<rect x="365.64" y="304.80" width="14.71" height="6.70" fill="#e49e86"/>
<rect x="380.05" y="304.80" width="14.71" height="6.70" fill="#efc49a"/>
<rect x="394.46" y="304.80" width="14.71" height="6.70" fill="#f2d0a0"/>
<rect x="408.87" y="304.80" width="14.71" height="6.70" fill="#b6da9a"/>
<rect x="423.28" y="304.80" width="14.71" height="6.70" fill="#a6d292"/>
<rect x="437.69" y="304.80" width="14.71" height="6.70" fill="#b6da9a"/>
<rect x="452.10" y="304.80" width="14.71" height="6.70" fill="#56a964"/>
<rect x="466.51" y="304.80" width="14.71" height="6.70" fill="#76ba76"/>
<rect x="480.92" y="304.80" width="14.71" height="6.70" fill="#76ba76"/>
<rect x="495.33" y="304.80" width="14.71" height="6.70" fill="#96ca88"/>
<rect x="509.74" y="304.80" width="14.71" height="6.70" fill="#e49e86"/>
<rect x="308.00" y="311.20" width="14.71" height="6.70" fill="#eef4b6"/>
<rect x="322.41" y="311.20" width="14.71" height="6.70" fill="#c5e1a3"/>
<rect x="336.82" y="311.20" width="14.71" height="6.70" fill="#f9f9b9"/>
<rect x="351.23" y="311.20" width="14.71" height="6.70" fill="#efc49a"/>
<rect x="365.64" y="311.20" width="14.71" height="6.70" fill="#f2d0a0"/>
<rect x="380.05" y="311.20" width="14.71" height="6.70" fill="#f2d0a0"/>
<rect x="394.46" y="311.20" width="14.71" height="6.70" fill="#f2d0a0"/>
<rect x="408.87" y="311.20" width="14.71" height="6.70" fill="#c5e1a3"/>
<rect x="423.28" y="311.20" width="14.71" height="6.70" fill="#ecb893"/>
<rect x="437.69" y="311.20" width="14.71" height="6.70" fill="#a6d292"/>
<rect x="452.10" y="311.20" width="14.71" height="6.70" fill="#56a964"/>
<rect x="466.51" y="311.20" width="14.71" height="6.70" fill="#56a964"/>
<rect x="480.92" y="311.20" width="14.71" height="6.70" fill="#b6da9a"/>
<rect x="495.33" y="311.20" width="14.71" height="6.70" fill="#a6d292"/>
<rect x="509.74" y="311.20" width="14.71" height="6.70" fill="#ecb893"/>
<rect x="308.00" y="317.60" width="14.71" height="6.70" fill="#b8283f"/>
<rect x="322.41" y="317.60" width="14.71" height="6.70" fill="#efc49a"/>
<rect x="336.82" y="317.60" width="14.71" height="6.70" fill="#f2d0a0"/>
<rect x="351.23" y="317.60" width="14.71" height="6.70" fill="#f8eeb2"/>
<rect x="365.64" y="317.60" width="14.71" height="6.70" fill="#ecb893"/>
<rect x="380.05" y="317.60" width="14.71" height="6.70" fill="#f4daa6"/>
<rect x="394.46" y="317.60" width="14.71" height="6.70" fill="#f9f9b9"/>
<rect x="408.87" y="317.60" width="14.71" height="6.70" fill="#f2d0a0"/>
<rect x="423.28" y="317.60" width="14.71" height="6.70" fill="#efc49a"/>
<rect x="437.69" y="317.60" width="14.71" height="6.70" fill="#df8e7f"/>
<rect x="452.10" y="317.60" width="14.71" height="6.70" fill="#b6da9a"/>
<rect x="466.51" y="317.60" width="14.71" height="6.70" fill="#96ca88"/>
<rect x="480.92" y="317.60" width="14.71" height="6.70" fill="#e2eeb2"/>
<rect x="495.33" y="317.60" width="14.71" height="6.70" fill="#f9f9b9"/>
<rect x="509.74" y="317.60" width="14.71" height="6.70" fill="#e2eeb2"/>
<rect x="308.00" y="324.00" width="14.71" height="6.70" fill="#e49e86"/>
<rect x="322.41" y="324.00" width="14.71" height="6.70" fill="#ecb893"/>
<rect x="336.82" y="324.00" width="14.71" height="6.70" fill="#f2d0a0"/>
<rect x="351.23" y="324.00" width="14.71" height="6.70" fill="#f2d0a0"/>
<rect x="365.64" y="324.00" width="14.71" height="6.70" fill="#f2d0a0"/>
<rect x="380.05" y="324.00" width="14.71" height="6.70" fill="#df8e7f"/>
<rect x="394.46" y="324.00" width="14.71" height="6.70" fill="#f2d0a0"/>
<rect x="408.87" y="324.00" width="14.71" height="6.70" fill="#df8e7f"/>
<rect x="423.28" y="324.00" width="14.71" height="6.70" fill="#e49e86"/>
<rect x="437.69" y="324.00" width="14.71" height="6.70" fill="#df8e7f"/>
<rect x="452.10" y="324.00" width="14.71" height="6.70" fill="#56a964"/>
<rect x="466.51" y="324.00" width="14.71" height="6.70" fill="#f9f9b9"/>
<rect x="480.92" y="324.00" width="14.71" height="6.70" fill="#66b26c"/>
<rect x="495.33" y="324.00" width="14.71" height="6.70" fill="#a6d292"/>
<rect x="509.74" y="324.00" width="14.71" height="6.70" fill="#86c27f"/>
<rect x="308.00" y="330.40" width="14.71" height="6.70" fill="#e8ab8c"/>
<rect x="322.41" y="330.40" width="14.71" height="6.70" fill="#f2d0a0"/>
<rect x="336.82" y="330.40" width="14.71" height="6.70" fill="#df8e7f"/>
<rect x="351.23" y="330.40" width="14.71" height="6.70" fill="#f9f9b9"/>
<rect x="365.64" y="330.40" width="14.71" height="6.70" fill="#ecb893"/>
<rect x="380.05" y="330.40" width="14.71" height="6.70" fill="#ecb893"/>
<rect x="394.46" y="330.40" width="14.71" height="6.70" fill="#ecb893"/>
<rect x="408.87" y="330.40" width="14.71" height="6.70" fill="#b8283f"/>
<rect x="423.28" y="330.40" width="14.71" height="6.70" fill="#cb5560"/>
<rect x="437.69" y="330.40" width="14.71" height="6.70" fill="#b8283f"/>
<rect x="452.10" y="330.40" width="14.71" height="6.70" fill="#b6da9a"/>
<rect x="466.51" y="330.40" width="14.71" height="6.70" fill="#66b26c"/>
<rect x="480.92" y="330.40" width="14.71" height="6.70" fill="#66b26c"/>
<rect x="495.33" y="330.40" width="14.71" height="6.70" fill="#c5e1a3"/>
<rect x="509.74" y="330.40" width="14.71" height="6.70" fill="#b6da9a"/>
<rect x="308.00" y="336.80" width="14.71" height="6.70" fill="#df8e7f"/>
<rect x="322.41" y="336.80" width="14.71" height="6.70" fill="#f9f9b9"/>
<rect x="336.82" y="336.80" width="14.71" height="6.70" fill="#e49e86"/>
<rect x="351.23" y="336.80" width="14.71" height="6.70" fill="#f6e4ab"/>
<rect x="365.64" y="336.80" width="14.71" height="6.70" fill="#f4daa6"/>
<rect x="380.05" y="336.80" width="14.71" height="6.70" fill="#f4daa6"/>
<rect x="394.46" y="336.80" width="14.71" height="6.70" fill="#df8e7f"/>
<rect x="408.87" y="336.80" width="14.71" height="6.70" fill="#f9f9b9"/>
<rect x="423.28" y="336.80" width="14.71" height="6.70" fill="#d4e8aa"/>
<rect x="437.69" y="336.80" width="14.71" height="6.70" fill="#e49e86"/>
<rect x="452.10" y="336.80" width="14.71" height="6.70" fill="#ac1232"/>
<rect x="466.51" y="336.80" width="14.71" height="6.70" fill="#96ca88"/>
<rect x="480.92" y="336.80" width="14.71" height="6.70" fill="#a6d292"/>
<rect x="495.33" y="336.80" width="14.71" height="6.70" fill="#f4daa6"/>
<rect x="509.74" y="336.80" width="14.71" height="6.70" fill="#f6e4ab"/>
<rect x="308.00" y="343.20" width="14.71" height="6.70" fill="#f2d0a0"/>
<rect x="322.41" y="343.20" width="14.71" height="6.70" fill="#c23e50"/>
<rect x="336.82" y="343.20" width="14.71" height="6.70" fill="#e49e86"/>
<rect x="351.23" y="343.20" width="14.71" height="6.70" fill="#e49e86"/>
<rect x="365.64" y="343.20" width="14.71" height="6.70" fill="#f9f9b9"/>
<rect x="380.05" y="343.20" width="14.71" height="6.70" fill="#f2d0a0"/>
<rect x="394.46" y="343.20" width="14.71" height="6.70" fill="#ecb893"/>
<rect x="408.87" y="343.20" width="14.71" height="6.70" fill="#f6e4ab"/>
<rect x="423.28" y="343.20" width="14.71" height="6.70" fill="#f9f9b9"/>
<rect x="437.69" y="343.20" width="14.71" height="6.70" fill="#eef4b6"/>
<rect x="452.10" y="343.20" width="14.71" height="6.70" fill="#d26a6c"/>
<rect x="466.51" y="343.20" width="14.71" height="6.70" fill="#96ca88"/>
<rect x="480.92" y="343.20" width="14.71" height="6.70" fill="#66b26c"/>
<rect x="495.33" y="343.20" width="14.71" height="6.70" fill="#eef4b6"/>
<rect x="509.74" y="343.20" width="14.71" height="6.70" fill="#b6da9a"/>
<rect x="308.00" y="349.60" width="14.71" height="6.70" fill="#ecb893"/>
<rect x="322.41" y="349.60" width="14.71" height="6.70" fill="#df8e7f"/>
<rect x="336.82" y="349.60" width="14.71" height="6.70" fill="#f8eeb2"/>
<rect x="351.23" y="349.60" width="14.71" height="6.70" fill="#f2d0a0"/>
<rect x="365.64" y="349.60" width="14.71" height="6.70" fill="#ecb893"/>
<rect x="380.05" y="349.60" width="14.71" height="6.70" fill="#e8ab8c"/>
<rect x="394.46" y="349.60" width="14.71" height="6.70" fill="#e8ab8c"/>
<rect x="408.87" y="349.60" width="14.71" height="6.70" fill="#eef4b6"/>
<rect x="423.28" y="349.60" width="14.71" height="6.70" fill="#d4e8aa"/>
<rect x="437.69" y="349.60" width="14.71" height="6.70" fill="#f9f9b9"/>
<rect x="452.10" y="349.60" width="14.71" height="6.70" fill="#ecb893"/>
<rect x="466.51" y="349.60" width="14.71" height="6.70" fill="#96ca88"/>
<rect x="480.92" y="349.60" width="14.71" height="6.70" fill="#96ca88"/>
<rect x="495.33" y="349.60" width="14.71" height="6.70" fill="#eef4b6"/>
<rect x="509.74" y="349.60" width="14.71" height="6.70" fill="#86c27f"/>
<rect x="308.00" y="356.00" width="14.71" height="6.70" fill="#46a05b"/>
<rect x="322.41" y="356.00" width="14.71" height="6.70" fill="#46a05b"/>
<rect x="336.82" y="356.00" width="14.71" height="6.70" fill="#56a964"/>
<rect x="351.23" y="356.00" width="14.71" height="6.70" fill="#66b26c"/>
<rect x="365.64" y="356.00" width="14.71" height="6.70" fill="#76ba76"/>
<rect x="380.05" y="356.00" width="14.71" height="6.70" fill="#46a05b"/>
<rect x="394.46" y="356.00" width="14.71" height="6.70" fill="#46a05b"/>
<rect x="408.87" y="356.00" width="14.71" height="6.70" fill="#86c27f"/>
<rect x="423.28" y="356.00" width="14.71" height="6.70" fill="#86c27f"/>
<rect x="437.69" y="356.00" width="14.71" height="6.70" fill="#66b26c"/>
<rect x="452.10" y="356.00" width="14.71" height="6.70" fill="#c5e1a3"/>
<rect x="466.51" y="356.00" width="14.71" height="6.70" fill="#56a964"/>
<rect x="480.92" y="356.00" width="14.71" height="6.70" fill="#66b26c"/>
<rect x="495.33" y="356.00" width="14.71" height="6.70" fill="#208344"/>
<rect x="509.74" y="356.00" width="14.71" height="6.70" fill="#389653"/>
<rect x="308.00" y="362.40" width="14.71" height="6.70" fill="#56a964"/>
<rect x="322.41" y="362.40" width="14.71" height="6.70" fill="#46a05b"/>
<rect x="336.82" y="362.40" width="14.71" height="6.70" fill="#2a8c4b"/>
<rect x="351.23" y="362.40" width="14.71" height="6.70" fill="#46a05b"/>
<rect x="365.64" y="362.40" width="14.71" height="6.70" fill="#66b26c"/>
<rect x="380.05" y="362.40" width="14.71" height="6.70" fill="#56a964"/>
<rect x="394.46" y="362.40" width="14.71" height="6.70" fill="#46a05b"/>
<rect x="408.87" y="362.40" width="14.71" height="6.70" fill="#86c27f"/>
<rect x="423.28" y="362.40" width="14.71" height="6.70" fill="#e2eeb2"/>
<rect x="437.69" y="362.40" width="14.71" height="6.70" fill="#86c27f"/>
<rect x="452.10" y="362.40" width="14.71" height="6.70" fill="#a6d292"/>
<rect x="466.51" y="362.40" width="14.71" height="6.70" fill="#208344"/>
<rect x="480.92" y="362.40" width="14.71" height="6.70" fill="#157a3c"/>
<rect x="495.33" y="362.40" width="14.71" height="6.70" fill="#46a05b"/>
<rect x="509.74" y="362.40" width="14.71" height="6.70" fill="#46a05b"/>
<rect x="308.00" y="368.80" width="14.71" height="6.70" fill="#76ba76"/>
<rect x="322.41" y="368.80" width="14.71" height="6.70" fill="#86c27f"/>
<rect x="336.82" y="368.80" width="14.71" height="6.70" fill="#2a8c4b"/>
<rect x="351.23" y="368.80" width="14.71" height="6.70" fill="#2a8c4b"/>
<rect x="365.64" y="368.80" width="14.71" height="6.70" fill="#389653"/>
<rect x="380.05" y="368.80" width="14.71" height="6.70" fill="#46a05b"/>
<rect x="394.46" y="368.80" width="14.71" height="6.70" fill="#46a05b"/>
<rect x="408.87" y="368.80" width="14.71" height="6.70" fill="#f9f9b9"/>
<rect x="423.28" y="368.80" width="14.71" height="6.70" fill="#76ba76"/>
<rect x="437.69" y="368.80" width="14.71" height="6.70" fill="#f9f9b9"/>
<rect x="452.10" y="368.80" width="14.71" height="6.70" fill="#a6d292"/>
<rect x="466.51" y="368.80" width="14.71" height="6.70" fill="#66b26c"/>
<rect x="480.92" y="368.80" width="14.71" height="6.70" fill="#76ba76"/>
<rect x="495.33" y="368.80" width="14.71" height="6.70" fill="#a6d292"/>
<rect x="509.74" y="368.80" width="14.71" height="6.70" fill="#56a964"/>
<rect x="308.00" y="375.20" width="14.71" height="6.70" fill="#66b26c"/>
<rect x="322.41" y="375.20" width="14.71" height="6.70" fill="#66b26c"/>
<rect x="336.82" y="375.20" width="14.71" height="6.70" fill="#2a8c4b"/>
<rect x="351.23" y="375.20" width="14.71" height="6.70" fill="#157a3c"/>
<rect x="365.64" y="375.20" width="14.71" height="6.70" fill="#56a964"/>
<rect x="380.05" y="375.20" width="14.71" height="6.70" fill="#46a05b"/>
<rect x="394.46" y="375.20" width="14.71" height="6.70" fill="#66b26c"/>
<rect x="408.87" y="375.20" width="14.71" height="6.70" fill="#86c27f"/>
<rect x="423.28" y="375.20" width="14.71" height="6.70" fill="#76ba76"/>
<rect x="437.69" y="375.20" width="14.71" height="6.70" fill="#56a964"/>
<rect x="452.10" y="375.20" width="14.71" height="6.70" fill="#2a8c4b"/>
<rect x="466.51" y="375.20" width="14.71" height="6.70" fill="#a6d292"/>
<rect x="480.92" y="375.20" width="14.71" height="6.70" fill="#76ba76"/>
<rect x="495.33" y="375.20" width="14.71" height="6.70" fill="#46a05b"/>
<rect x="509.74" y="375.20" width="14.71" height="6.70" fill="#66b26c"/>
<rect x="308.00" y="381.60" width="14.71" height="6.70" fill="#a6d292"/>
<rect x="322.41" y="381.60" width="14.71" height="6.70" fill="#86c27f"/>
<rect x="336.82" y="381.60" width="14.71" height="6.70" fill="#f2d0a0"/>
<rect x="351.23" y="381.60" width="14.71" height="6.70" fill="#f2d0a0"/>
<rect x="365.64" y="381.60" width="14.71" height="6.70" fill="#96ca88"/>
<rect x="380.05" y="381.60" width="14.71" height="6.70" fill="#b6da9a"/>
<rect x="394.46" y="381.60" width="14.71" height="6.70" fill="#96ca88"/>
<rect x="408.87" y="381.60" width="14.71" height="6.70" fill="#c5e1a3"/>
<rect x="423.28" y="381.60" width="14.71" height="6.70" fill="#389653"/>
<rect x="437.69" y="381.60" width="14.71" height="6.70" fill="#76ba76"/>
<rect x="452.10" y="381.60" width="14.71" height="6.70" fill="#f9f9b9"/>
<rect x="466.51" y="381.60" width="14.71" height="6.70" fill="#e2eeb2"/>
<rect x="480.92" y="381.60" width="14.71" height="6.70" fill="#df8e7f"/>
<rect x="495.33" y="381.60" width="14.71" height="6.70" fill="#eef4b6"/>
<rect x="509.74" y="381.60" width="14.71" height="6.70" fill="#f6e4ab"/>
<rect x="308.00" y="388.00" width="14.71" height="6.70" fill="#a6d292"/>
<rect x="322.41" y="388.00" width="14.71" height="6.70" fill="#a6d292"/>
<rect x="336.82" y="388.00" width="14.71" height="6.70" fill="#f9f9b9"/>
<rect x="351.23" y="388.00" width="14.71" height="6.70" fill="#f4daa6"/>
<rect x="365.64" y="388.00" width="14.71" height="6.70" fill="#76ba76"/>
<rect x="380.05" y="388.00" width="14.71" height="6.70" fill="#a6d292"/>
<rect x="394.46" y="388.00" width="14.71" height="6.70" fill="#c5e1a3"/>
<rect x="408.87" y="388.00" width="14.71" height="6.70" fill="#46a05b"/>
<rect x="423.28" y="388.00" width="14.71" height="6.70" fill="#389653"/>
<rect x="437.69" y="388.00" width="14.71" height="6.70" fill="#d4e8aa"/>
<rect x="452.10" y="388.00" width="14.71" height="6.70" fill="#f9f9b9"/>
<rect x="466.51" y="388.00" width="14.71" height="6.70" fill="#b6da9a"/>
<rect x="480.92" y="388.00" width="14.71" height="6.70" fill="#e49e86"/>
<rect x="495.33" y="388.00" width="14.71" height="6.70" fill="#e2eeb2"/>
<rect x="509.74" y="388.00" width="14.71" height="6.70" fill="#a6d292"/>
<rect x="308.00" y="394.40" width="14.71" height="6.70" fill="#96ca88"/>
<rect x="322.41" y="394.40" width="14.71" height="6.70" fill="#a6d292"/>
<rect x="336.82" y="394.40" width="14.71" height="6.70" fill="#b6da9a"/>
<rect x="351.23" y="394.40" width="14.71" height="6.70" fill="#a6d292"/>
<rect x="365.64" y="394.40" width="14.71" height="6.70" fill="#e49e86"/>
<rect x="380.05" y="394.40" width="14.71" height="6.70" fill="#96ca88"/>
<rect x="394.46" y="394.40" width="14.71" height="6.70" fill="#a6d292"/>
<rect x="408.87" y="394.40" width="14.71" height="6.70" fill="#66b26c"/>
<rect x="423.28" y="394.40" width="14.71" height="6.70" fill="#66b26c"/>
<rect x="437.69" y="394.40" width="14.71" height="6.70" fill="#e2eeb2"/>
<rect x="452.10" y="394.40" width="14.71" height="6.70" fill="#b6da9a"/>
<rect x="466.51" y="394.40" width="14.71" height="6.70" fill="#ecb893"/>
<rect x="480.92" y="394.40" width="14.71" height="6.70" fill="#eef4b6"/>
<rect x="495.33" y="394.40" width="14.71" height="6.70" fill="#da7f78"/>
<rect x="509.74" y="394.40" width="14.71" height="6.70" fill="#a6d292"/>
<rect x="308.00" y="400.80" width="14.71" height="6.70" fill="#96ca88"/>
<rect x="322.41" y="400.80" width="14.71" height="6.70" fill="#a6d292"/>
<rect x="336.82" y="400.80" width="14.71" height="6.70" fill="#86c27f"/>
<rect x="351.23" y="400.80" width="14.71" height="6.70" fill="#c5e1a3"/>
<rect x="365.64" y="400.80" width="14.71" height="6.70" fill="#86c27f"/>
<rect x="380.05" y="400.80" width="14.71" height="6.70" fill="#86c27f"/>
<rect x="394.46" y="400.80" width="14.71" height="6.70" fill="#96ca88"/>
<rect x="408.87" y="400.80" width="14.71" height="6.70" fill="#56a964"/>
<rect x="423.28" y="400.80" width="14.71" height="6.70" fill="#56a964"/>
<rect x="437.69" y="400.80" width="14.71" height="6.70" fill="#e2eeb2"/>
<rect x="452.10" y="400.80" width="14.71" height="6.70" fill="#b6da9a"/>
<rect x="466.51" y="400.80" width="14.71" height="6.70" fill="#f2d0a0"/>
<rect x="480.92" y="400.80" width="14.71" height="6.70" fill="#e49e86"/>
<rect x="495.33" y="400.80" width="14.71" height="6.70" fill="#e49e86"/>
<rect x="509.74" y="400.80" width="14.71" height="6.70" fill="#56a964"/>
<rect x="308.00" y="407.20" width="14.71" height="6.70" fill="#a6d292"/>
<rect x="322.41" y="407.20" width="14.71" height="6.70" fill="#76ba76"/>
<rect x="336.82" y="407.20" width="14.71" height="6.70" fill="#96ca88"/>
<rect x="351.23" y="407.20" width="14.71" height="6.70" fill="#b6da9a"/>
<rect x="365.64" y="407.20" width="14.71" height="6.70" fill="#96ca88"/>
<rect x="380.05" y="407.20" width="14.71" height="6.70" fill="#86c27f"/>
<rect x="394.46" y="407.20" width="14.71" height="6.70" fill="#b6da9a"/>
<rect x="408.87" y="407.20" width="14.71" height="6.70" fill="#56a964"/>
<rect x="423.28" y="407.20" width="14.71" height="6.70" fill="#b6da9a"/>
<rect x="437.69" y="407.20" width="14.71" height="6.70" fill="#b6da9a"/>
<rect x="452.10" y="407.20" width="14.71" height="6.70" fill="#c5e1a3"/>
<rect x="466.51" y="407.20" width="14.71" height="6.70" fill="#f2d0a0"/>
<rect x="480.92" y="407.20" width="14.71" height="6.70" fill="#f2d0a0"/>
<rect x="495.33" y="407.20" width="14.71" height="6.70" fill="#86c27f"/>
<rect x="509.74" y="407.20" width="14.71" height="6.70" fill="#e2eeb2"/>
<rect x="308.00" y="413.60" width="14.71" height="6.70" fill="#a6d292"/>
<rect x="322.41" y="413.60" width="14.71" height="6.70" fill="#a6d292"/>
<rect x="336.82" y="413.60" width="14.71" height="6.70" fill="#96ca88"/>
<rect x="351.23" y="413.60" width="14.71" height="6.70" fill="#76ba76"/>
<rect x="365.64" y="413.60" width="14.71" height="6.70" fill="#86c27f"/>
<rect x="380.05" y="413.60" width="14.71" height="6.70" fill="#86c27f"/>
<rect x="394.46" y="413.60" width="14.71" height="6.70" fill="#86c27f"/>
<rect x="408.87" y="413.60" width="14.71" height="6.70" fill="#56a964"/>
<rect x="423.28" y="413.60" width="14.71" height="6.70" fill="#c5e1a3"/>
<rect x="437.69" y="413.60" width="14.71" height="6.70" fill="#66b26c"/>
<rect x="452.10" y="413.60" width="14.71" height="6.70" fill="#c5e1a3"/>
<rect x="466.51" y="413.60" width="14.71" height="6.70" fill="#c23e50"/>
<rect x="480.92" y="413.60" width="14.71" height="6.70" fill="#f4daa6"/>
<rect x="495.33" y="413.60" width="14.71" height="6.70" fill="#86c27f"/>
<rect x="509.74" y="413.60" width="14.71" height="6.70" fill="#f6e4ab"/>
<rect x="308.00" y="420.00" width="14.71" height="6.70" fill="#a6d292"/>
<rect x="322.41" y="420.00" width="14.71" height="6.70" fill="#46a05b"/>
<rect x="336.82" y="420.00" width="14.71" height="6.70" fill="#a6d292"/>
<rect x="351.23" y="420.00" width="14.71" height="6.70" fill="#96ca88"/>
<rect x="365.64" y="420.00" width="14.71" height="6.70" fill="#66b26c"/>
<rect x="380.05" y="420.00" width="14.71" height="6.70" fill="#86c27f"/>
<rect x="394.46" y="420.00" width="14.71" height="6.70" fill="#86c27f"/>
<rect x="408.87" y="420.00" width="14.71" height="6.70" fill="#56a964"/>
<rect x="423.28" y="420.00" width="14.71" height="6.70" fill="#b6da9a"/>
<rect x="437.69" y="420.00" width="14.71" height="6.70" fill="#c5e1a3"/>
<rect x="452.10" y="420.00" width="14.71" height="6.70" fill="#efc49a"/>
<rect x="466.51" y="420.00" width="14.71" height="6.70" fill="#f9f9b9"/>
<rect x="480.92" y="420.00" width="14.71" height="6.70" fill="#c5e1a3"/>
<rect x="495.33" y="420.00" width="14.71" height="6.70" fill="#e2eeb2"/>
<rect x="509.74" y="420.00" width="14.71" height="6.70" fill="#e2eeb2"/>
<rect x="308.00" y="426.40" width="14.71" height="6.70" fill="#76ba76"/>
<rect x="322.41" y="426.40" width="14.71" height="6.70" fill="#86c27f"/>
<rect x="336.82" y="426.40" width="14.71" height="6.70" fill="#56a964"/>
<rect x="351.23" y="426.40" width="14.71" height="6.70" fill="#157a3c"/>
<rect x="365.64" y="426.40" width="14.71" height="6.70" fill="#66b26c"/>
<rect x="380.05" y="426.40" width="14.71" height="6.70" fill="#76ba76"/>
<rect x="394.46" y="426.40" width="14.71" height="6.70" fill="#56a964"/>
<rect x="408.87" y="426.40" width="14.71" height="6.70" fill="#66b26c"/>
<rect x="423.28" y="426.40" width="14.71" height="6.70" fill="#d4e8aa"/>
<rect x="437.69" y="426.40" width="14.71" height="6.70" fill="#f8eeb2"/>
<rect x="452.10" y="426.40" width="14.71" height="6.70" fill="#c5e1a3"/>
<rect x="466.51" y="426.40" width="14.71" height="6.70" fill="#f9f9b9"/>
<rect x="480.92" y="426.40" width="14.71" height="6.70" fill="#e8ab8c"/>
<rect x="495.33" y="426.40" width="14.71" height="6.70" fill="#eef4b6"/>
<rect x="509.74" y="426.40" width="14.71" height="6.70" fill="#f6e4ab"/>
<rect x="308.00" y="432.80" width="14.71" height="6.70" fill="#86c27f"/>
<rect x="322.41" y="432.80" width="14.71" height="6.70" fill="#96ca88"/>
<rect x="336.82" y="432.80" width="14.71" height="6.70" fill="#a6d292"/>
<rect x="351.23" y="432.80" width="14.71" height="6.70" fill="#a6d292"/>
<rect x="365.64" y="432.80" width="14.71" height="6.70" fill="#86c27f"/>
<rect x="380.05" y="432.80" width="14.71" height="6.70" fill="#76ba76"/>
<rect x="394.46" y="432.80" width="14.71" height="6.70" fill="#86c27f"/>
<rect x="408.87" y="432.80" width="14.71" height="6.70" fill="#da7f78"/>
<rect x="423.28" y="432.80" width="14.71" height="6.70" fill="#d4e8aa"/>
<rect x="437.69" y="432.80" width="14.71" height="6.70" fill="#86c27f"/>
<rect x="452.10" y="432.80" width="14.71" height="6.70" fill="#a6d292"/>
<rect x="466.51" y="432.80" width="14.71" height="6.70" fill="#da7f78"/>
<rect x="480.92" y="432.80" width="14.71" height="6.70" fill="#86c27f"/>
<rect x="495.33" y="432.80" width="14.71" height="6.70" fill="#46a05b"/>
<rect x="509.74" y="432.80" width="14.71" height="6.70" fill="#d4e8aa"/>
<rect x="308.00" y="439.20" width="14.71" height="6.70" fill="#96ca88"/>
<rect x="322.41" y="439.20" width="14.71" height="6.70" fill="#f9f9b9"/>
<rect x="336.82" y="439.20" width="14.71" height="6.70" fill="#66b26c"/>
<rect x="351.23" y="439.20" width="14.71" height="6.70" fill="#a6d292"/>
<rect x="365.64" y="439.20" width="14.71" height="6.70" fill="#a6d292"/>
<rect x="380.05" y="439.20" width="14.71" height="6.70" fill="#a6d292"/>
<rect x="394.46" y="439.20" width="14.71" height="6.70" fill="#a6d292"/>
<rect x="408.87" y="439.20" width="14.71" height="6.70" fill="#f9f9b9"/>
<rect x="423.28" y="439.20" width="14.71" height="6.70" fill="#86c27f"/>
<rect x="437.69" y="439.20" width="14.71" height="6.70" fill="#66b26c"/>
<rect x="452.10" y="439.20" width="14.71" height="6.70" fill="#a6d292"/>
<rect x="466.51" y="439.20" width="14.71" height="6.70" fill="#ecb893"/>
<rect x="480.92" y="439.20" width="14.71" height="6.70" fill="#f9f9b9"/>
<rect x="495.33" y="439.20" width="14.71" height="6.70" fill="#c5e1a3"/>
<rect x="509.74" y="439.20" width="14.71" height="6.70" fill="#66b26c"/>
<rect x="308.00" y="445.60" width="14.71" height="6.70" fill="#a6d292"/>
<rect x="322.41" y="445.60" width="14.71" height="6.70" fill="#66b26c"/>
<rect x="336.82" y="445.60" width="14.71" height="6.70" fill="#a6d292"/>
<rect x="351.23" y="445.60" width="14.71" height="6.70" fill="#c5e1a3"/>
<rect x="365.64" y="445.60" width="14.71" height="6.70" fill="#96ca88"/>
<rect x="380.05" y="445.60" width="14.71" height="6.70" fill="#c5e1a3"/>
<rect x="394.46" y="445.60" width="14.71" height="6.70" fill="#96ca88"/>
<rect x="408.87" y="445.60" width="14.71" height="6.70" fill="#e49e86"/>
<rect x="423.28" y="445.60" width="14.71" height="6.70" fill="#86c27f"/>
<rect x="437.69" y="445.60" width="14.71" height="6.70" fill="#66b26c"/>
<rect x="452.10" y="445.60" width="14.71" height="6.70" fill="#c5e1a3"/>
<rect x="466.51" y="445.60" width="14.71" height="6.70" fill="#f9f9b9"/>
<rect x="480.92" y="445.60" width="14.71" height="6.70" fill="#eef4b6"/>
<rect x="495.33" y="445.60" width="14.71" height="6.70" fill="#d4e8aa"/>
<rect x="509.74" y="445.60" width="14.71" height="6.70" fill="#66b26c"/>
</g>
<g font-size="3.8" fill="#222">
<text x="525.8" y="290.15" textLength="4.6" lengthAdjust="spacingAndGlyphs">B2</text>
<text x="525.8" y="296.55" textLength="4.6" lengthAdjust="spacingAndGlyphs">B1</text>
<text x="525.8" y="302.95" textLength="4.6" lengthAdjust="spacingAndGlyphs">B5</text>
<text x="525.8" y="309.35" textLength="4.6" lengthAdjust="spacingAndGlyphs">B3</text>
<text x="525.8" y="315.75" textLength="4.6" lengthAdjust="spacingAndGlyphs">B4</text>
<text x="525.8" y="322.15" textLength="4.6" lengthAdjust="spacingAndGlyphs">A6</text>
<text x="525.8" y="328.55" textLength="4.6" lengthAdjust="spacingAndGlyphs">A4</text>
<text x="525.8" y="334.95" textLength="4.6" lengthAdjust="spacingAndGlyphs">A5</text>
<text x="525.8" y="341.35" textLength="4.6" lengthAdjust="spacingAndGlyphs">A2</text>
<text x="525.8" y="347.75" textLength="4.6" lengthAdjust="spacingAndGlyphs">A1</text>
<text x="525.8" y="354.15" textLength="4.6" lengthAdjust="spacingAndGlyphs">A3</text>
<text x="525.8" y="360.55" textLength="4.6" lengthAdjust="spacingAndGlyphs">E4</text>
<text x="525.8" y="366.95" textLength="4.6" lengthAdjust="spacingAndGlyphs">E5</text>
<text x="525.8" y="373.35" textLength="4.6" lengthAdjust="spacingAndGlyphs">E1</text>
<text x="525.8" y="379.75" textLength="4.6" lengthAdjust="spacingAndGlyphs">E3</text>
<text x="525.8" y="386.15" textLength="4.6" lengthAdjust="spacingAndGlyphs">D1</text>
<text x="525.8" y="392.55" textLength="4.6" lengthAdjust="spacingAndGlyphs">D3</text>
<text x="525.8" y="398.95" textLength="4.6" lengthAdjust="spacingAndGlyphs">C3</text>
<text x="525.8" y="405.35" textLength="4.6" lengthAdjust="spacingAndGlyphs">C7</text>
<text x="525.8" y="411.75" textLength="4.6" lengthAdjust="spacingAndGlyphs">C2</text>
<text x="525.8" y="418.15" textLength="4.6" lengthAdjust="spacingAndGlyphs">C5</text>
<text x="525.8" y="424.55" textLength="4.6" lengthAdjust="spacingAndGlyphs">D2</text>
<text x="525.8" y="430.95" textLength="4.6" lengthAdjust="spacingAndGlyphs">E2</text>
<text x="525.8" y="437.35" textLength="4.6" lengthAdjust="spacingAndGlyphs">C6</text>
<text x="525.8" y="443.75" textLength="4.6" lengthAdjust="spacingAndGlyphs">C1</text>
<text x="525.8" y="450.15" textLength="4.6" lengthAdjust="spacingAndGlyphs">C4</text>
<text x="311.98" y="456.8" textLength="6.45" lengthAdjust="spacingAndGlyphs">YQI</text>
<text x="326.39" y="456.8" textLength="6.45" lengthAdjust="spacingAndGlyphs">YAP</text>
<text x="340.80" y="456.8" textLength="6.45" lengthAdjust="spacingAndGlyphs">YPH</text>
<text x="355.21" y="456.8" textLength="6.45" lengthAdjust="spacingAndGlyphs">YPG</text>
<text x="368.55" y="456.8" textLength="8.60" lengthAdjust="spacingAndGlyphs">YCGC</text>
<text x="382.95" y="456.8" textLength="8.60" lengthAdjust="spacingAndGlyphs">YCSA</text>
<text x="397.37" y="456.8" textLength="8.60" lengthAdjust="spacingAndGlyphs">YCGT</text>
<text x="412.85" y="456.8" textLength="6.45" lengthAdjust="spacingAndGlyphs">YQU</text>
<text x="427.26" y="456.8" textLength="6.45" lengthAdjust="spacingAndGlyphs">YLU</text>
<text x="441.67" y="456.8" textLength="6.45" lengthAdjust="spacingAndGlyphs">YCA</text>
<text x="456.08" y="456.8" textLength="6.45" lengthAdjust="spacingAndGlyphs">YHY</text>
<text x="470.49" y="456.8" textLength="6.45" lengthAdjust="spacingAndGlyphs">YRU</text>
<text x="484.90" y="456.8" textLength="6.45" lengthAdjust="spacingAndGlyphs">YHE</text>
<text x="499.31" y="456.8" textLength="6.45" lengthAdjust="spacingAndGlyphs">YKP</text>
<text x="514.79" y="456.8" textLength="4.30" lengthAdjust="spacingAndGlyphs">YC</text>
</g>
<path d="M315.20 285.60L315.20 278.70 M329.62 285.60L329.62 278.70 M315.20 278.70L329.62 278.70 M344.02 285.60L344.02 280.50 M358.44 285.60L358.44 280.50 M344.02 280.50L358.44 280.50 M387.25 285.60L387.25 281.50 M401.67 285.60L401.67 281.50 M387.25 281.50L401.67 281.50 M372.85 285.60L372.85 280.00 M394.46 281.50L394.46 280.00 M372.85 280.00L394.46 280.00 M351.23 280.50L351.23 278.20 M383.65 280.00L383.65 278.20 M351.23 278.20L383.65 278.20 M322.41 278.70L322.41 277.30 M367.44 278.20L367.44 277.30 M322.41 277.30L367.44 277.30 M430.49 285.60L430.49 275.90 M444.89 285.60L444.89 275.90 M430.49 275.90L444.89 275.90 M416.07 285.60L416.07 274.90 M437.69 275.90L437.69 274.90 M416.07 274.90L437.69 274.90 M344.93 277.30L344.93 274.30 M426.88 274.90L426.88 274.30 M344.93 274.30L426.88 274.30 M473.72 285.60L473.72 276.40 M488.12 285.60L488.12 276.40 M473.72 276.40L488.12 276.40 M502.53 285.60L502.53 273.80 M516.94 285.60L516.94 273.80 M502.53 273.80L516.94 273.80 M480.92 276.40L480.92 272.70 M509.74 273.80L509.74 272.70 M480.92 272.70L509.74 272.70 M459.31 285.60L459.31 272.10 M495.33 272.70L495.33 272.10 M459.31 272.10L495.33 272.10 M385.90 274.30L385.90 269.40 M477.32 272.10L477.32 269.40 M385.90 269.40L477.32 269.40 M308.00 308.00L303.80 308.00 M308.00 314.40L303.80 314.40 M303.80 308.00L303.80 314.40 M308.00 301.60L302.80 301.60 M303.80 311.20L302.80 311.20 M302.80 301.60L302.80 311.20 M308.00 295.20L301.80 295.20 M302.80 306.40L301.80 306.40 M301.80 295.20L301.80 306.40 M308.00 288.80L300.30 288.80 M301.80 300.80L300.30 300.80 M300.30 288.80L300.30 300.80 M308.00 327.20L303.40 327.20 M308.00 333.60L303.40 333.60 M303.40 327.20L303.40 333.60 M308.00 320.80L302.60 320.80 M303.40 330.40L302.60 330.40 M302.60 320.80L302.60 330.40 M308.00 346.40L304.50 346.40 M308.00 352.80L304.50 352.80 M304.50 346.40L304.50 352.80 M308.00 340.00L302.40 340.00 M304.50 349.60L302.40 349.60 M302.40 340.00L302.40 349.60 M302.60 325.60L298.80 325.60 M302.40 344.80L298.80 344.80 M298.80 325.60L298.80 344.80 M300.30 294.80L297.60 294.80 M298.80 335.20L297.60 335.20 M297.60 294.80L297.60 335.20 M308.00 359.20L304.80 359.20 M308.00 365.60L304.80 365.60 M304.80 359.20L304.80 365.60 M308.00 372.00L302.60 372.00 M308.00 378.40L302.60 378.40 M302.60 372.00L302.60 378.40 M304.80 362.40L302.20 362.40 M302.60 375.20L302.20 375.20 M302.20 362.40L302.20 375.20 M308.00 384.80L304.40 384.80 M308.00 391.20L304.40 391.20 M304.40 384.80L304.40 391.20 M308.00 397.60L303.40 397.60 M308.00 404.00L303.40 404.00 M303.40 397.60L303.40 404.00 M304.40 388.00L300.70 388.00 M303.40 400.80L300.70 400.80 M300.70 388.00L300.70 400.80 M308.00 410.40L304.20 410.40 M308.00 416.80L304.20 416.80 M304.20 410.40L304.20 416.80 M308.00 423.20L302.90 423.20 M308.00 429.60L302.90 429.60 M302.90 423.20L302.90 429.60 M304.20 413.60L302.40 413.60 M302.90 426.40L302.40 426.40 M302.40 413.60L302.40 426.40 M308.00 442.40L303.90 442.40 M308.00 448.80L303.90 448.80 M303.90 442.40L303.90 448.80 M308.00 436.00L302.40 436.00 M303.90 445.60L302.40 445.60 M302.40 436.00L302.40 445.60 M302.40 420.00L300.00 420.00 M302.40 440.80L300.00 440.80 M300.00 420.00L300.00 440.80 M300.70 394.40L299.00 394.40 M300.00 430.40L299.00 430.40 M299.00 394.40L299.00 430.40 M302.20 368.80L296.50 368.80 M299.00 412.40L296.50 412.40 M296.50 368.80L296.50 412.40 M297.60 315.00L292.00 315.00 M296.50 390.60L292.00 390.60 M292.00 315.00L292.00 390.60" fill="none" stroke="#7d7d7d" stroke-width="0.55"/>
<line x1="297.7" y1="289" x2="297.7" y2="446.8" stroke="#f2a0a8" stroke-width="0.6"/>
<defs><linearGradient id="cbD" x1="0" y1="1" x2="0" y2="0">
<stop offset="0.0000" stop-color="#157a3c"/>
<stop offset="0.0843" stop-color="#3a9a55"/>
<stop offset="0.1686" stop-color="#6db571"/>
<stop offset="0.2530" stop-color="#a6d292"/>
<stop offset="0.3373" stop-color="#d5e8aa"/>
<stop offset="0.4216" stop-color="#fafab9"/>
<stop offset="0.5059" stop-color="#f5deaa"/>
<stop offset="0.5902" stop-color="#f0c89c"/>
<stop offset="0.6745" stop-color="#e5a389"/>
<stop offset="0.7589" stop-color="#d67470"/>
<stop offset="0.8432" stop-color="#c74a5a"/>
<stop offset="0.9275" stop-color="#b9283f"/>
<stop offset="1.0000" stop-color="#ad1533"/>
</linearGradient></defs>
<rect x="536.0" y="285.5" width="4.8" height="31.9" fill="url(#cbD)"/>
<g font-size="4.6" fill="#222">
<line x1="540.8" y1="293.26" x2="542" y2="293.26" stroke="#555" stroke-width="0.4"/>
<text x="542.8" y="294.86">2</text>
<line x1="540.8" y1="304.00" x2="542" y2="304.00" stroke="#555" stroke-width="0.4"/>
<text x="542.8" y="305.60">0</text>
<line x1="540.8" y1="314.74" x2="542" y2="314.74" stroke="#555" stroke-width="0.4"/>
<text x="542.8" y="316.34">-2</text>
</g>
<text x="415.9" y="515.3" text-anchor="middle" font-size="10" fill="#111">D</text>
</g>
</svg>
</body>
</html>
